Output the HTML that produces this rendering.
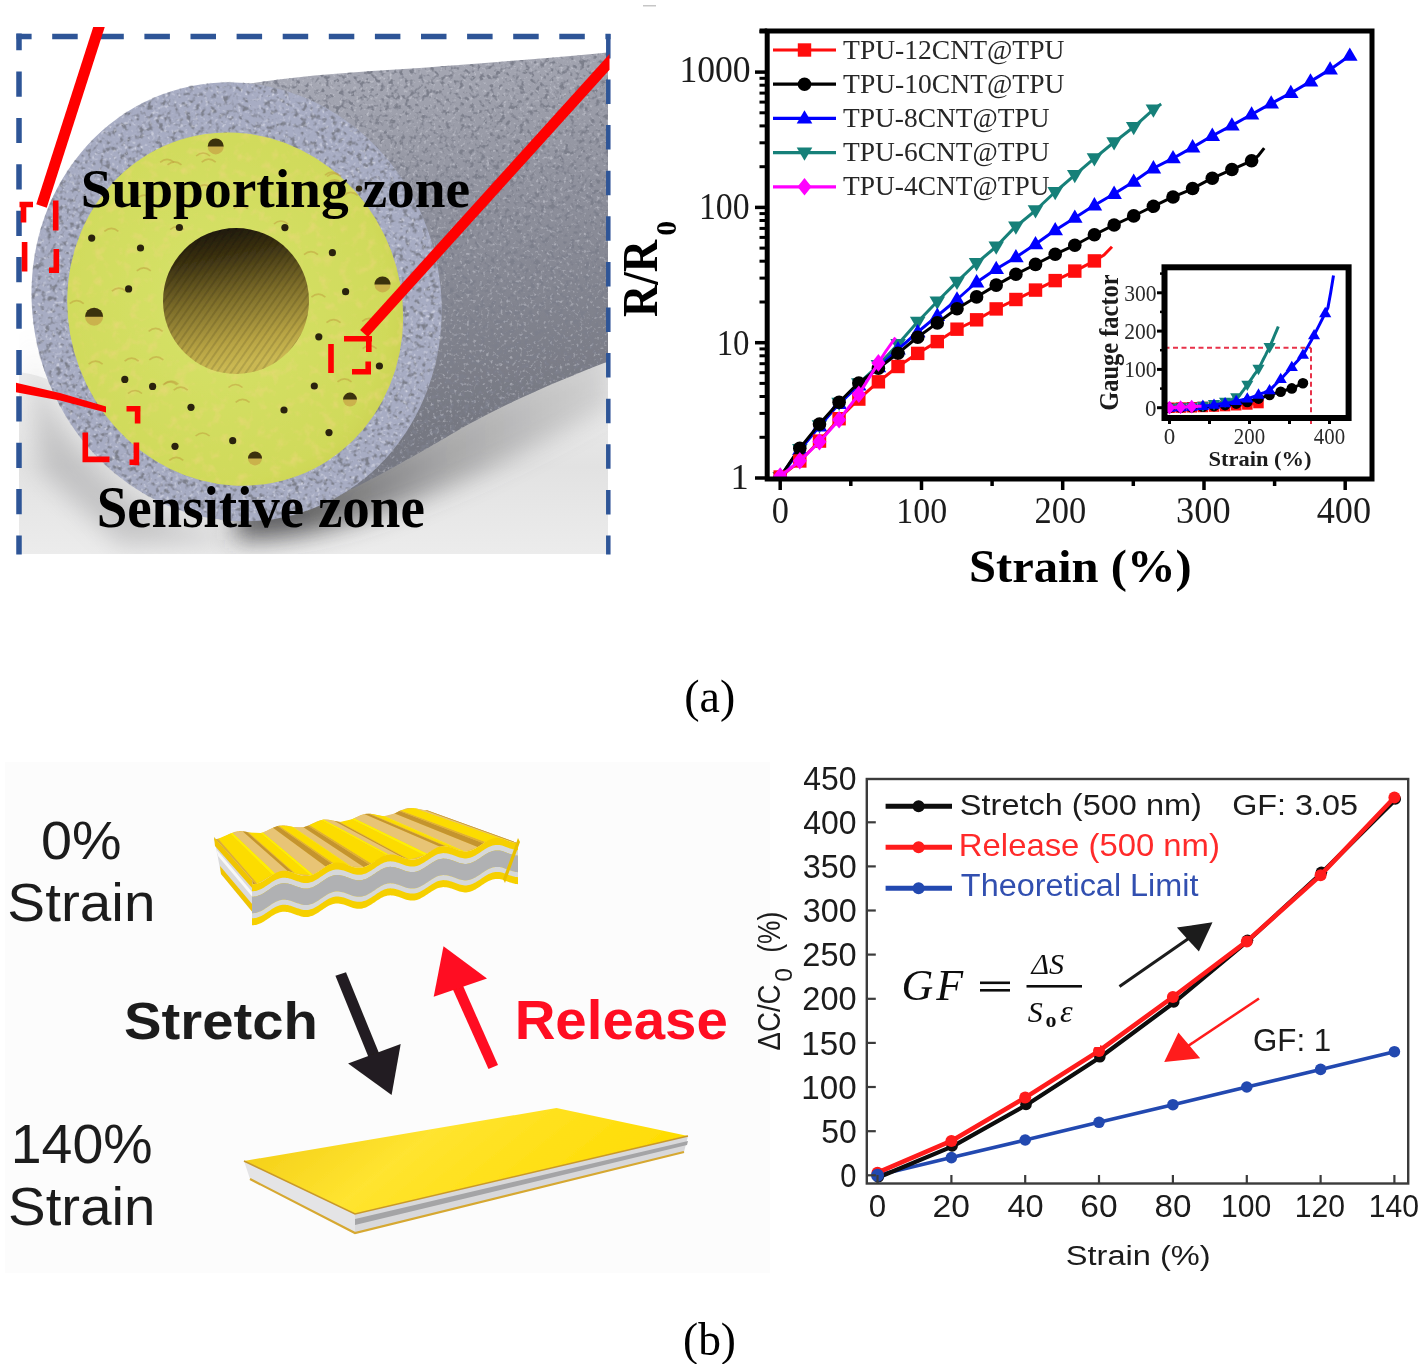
<!DOCTYPE html>
<html><head><meta charset="utf-8"><title>figure</title>
<style>html,body{margin:0;padding:0;background:#fff;width:1425px;height:1364px;overflow:hidden}svg{display:block}</style>
</head><body>
<svg width="1425" height="1364" viewBox="0 0 1425 1364"><defs>
<linearGradient id="holeG" x1="0" y1="0" x2="0.2" y2="1">
 <stop offset="0" stop-color="#120f06"/><stop offset="0.25" stop-color="#3a3010"/><stop offset="0.55" stop-color="#7e6e2a"/><stop offset="0.85" stop-color="#b8a444"/><stop offset="1" stop-color="#cab852"/>
</linearGradient>
<linearGradient id="bodyG" gradientUnits="userSpaceOnUse" x1="400" y1="60" x2="470" y2="420">
 <stop offset="0" stop-color="#a6a8b4"/><stop offset="0.45" stop-color="#8e909c"/><stop offset="1" stop-color="#767882"/>
</linearGradient>
<linearGradient id="shadowG" gradientUnits="userSpaceOnUse" x1="440" y1="430" x2="490" y2="530">
 <stop offset="0" stop-color="#8a8a8c"/><stop offset="0.35" stop-color="#b6b6b8"/><stop offset="1" stop-color="#ececec"/>
</linearGradient>
<radialGradient id="shadowR">
 <stop offset="0" stop-color="#505050" stop-opacity="0.55"/><stop offset="1" stop-color="#505050" stop-opacity="0"/>
</radialGradient>
<linearGradient id="floorL" gradientUnits="userSpaceOnUse" x1="19" y1="380" x2="19" y2="554">
 <stop offset="0" stop-color="#eeeeee"/><stop offset="0.5" stop-color="#e2e2e2"/><stop offset="1" stop-color="#ececec"/>
</linearGradient>
<linearGradient id="shadowH" gradientUnits="userSpaceOnUse" x1="300" y1="0" x2="608" y2="0">
 <stop offset="0" stop-color="#3c3c3e" stop-opacity="0.8"/><stop offset="0.45" stop-color="#58585a" stop-opacity="0.45"/><stop offset="1" stop-color="#808082" stop-opacity="0.25"/>
</linearGradient>
<filter id="noiseDark" x="0" y="0" width="100%" height="100%" filterUnits="objectBoundingBox">
 <feTurbulence type="fractalNoise" baseFrequency="0.2" numOctaves="2" seed="7" result="n"/>
 <feColorMatrix in="n" type="matrix" values="0 0 0 0 0.2  0 0 0 0 0.21  0 0 0 0 0.26  5.0 0 0 0 -2.6" result="d"/>
 <feComposite in="d" in2="SourceGraphic" operator="in"/>
</filter>
<filter id="noiseLight" x="0" y="0" width="100%" height="100%" filterUnits="objectBoundingBox">
 <feTurbulence type="fractalNoise" baseFrequency="0.3" numOctaves="2" seed="21" result="n"/>
 <feColorMatrix in="n" type="matrix" values="0 0 0 0 0.85  0 0 0 0 0.86  0 0 0 0 0.92  0 4.0 0 0 -2.3" result="d"/>
 <feComposite in="d" in2="SourceGraphic" operator="in"/>
</filter>
<filter id="noiseYel" x="0" y="0" width="100%" height="100%" filterUnits="objectBoundingBox">
 <feTurbulence type="fractalNoise" baseFrequency="0.09" numOctaves="3" seed="5" result="n"/>
 <feColorMatrix in="n" type="matrix" values="0 0 0 0 0.85  0 0 0 0 0.68  0 0 0 0 0.2  3.0 0 0 0 -1.55" result="d"/>
 <feComposite in="d" in2="SourceGraphic" operator="in"/>
</filter>
<filter id="blur12" x="-30%" y="-30%" width="160%" height="160%"><feGaussianBlur stdDeviation="12"/></filter>
<filter id="soft" filterUnits="userSpaceOnUse" x="0" y="0" width="1425" height="1364"><feGaussianBlur stdDeviation="0.6"/></filter>
<filter id="blur1"><feGaussianBlur stdDeviation="0.7"/></filter>
<linearGradient id="floorG" x1="0" y1="0" x2="1" y2="0">
 <stop offset="0" stop-color="#e6e6e6"/><stop offset="1" stop-color="#f6f6f6"/>
</linearGradient>
<radialGradient id="yelG" cx="0.45" cy="0.45" r="0.65">
 <stop offset="0" stop-color="#d6e26a"/><stop offset="0.8" stop-color="#d0da5a"/><stop offset="1" stop-color="#c8cc4e"/>
</radialGradient>
<linearGradient id="flatG" x1="0" y1="0" x2="1" y2="0.3">
 <stop offset="0" stop-color="#f0c810"/><stop offset="0.45" stop-color="#ffe430"/><stop offset="1" stop-color="#ffdc00"/>
</linearGradient>
<linearGradient id="wavTop" x1="0" y1="0" x2="1" y2="0">
 <stop offset="0" stop-color="#e8c040"/><stop offset="1" stop-color="#f6d820"/>
</linearGradient>
<pattern id="speck" width="9" height="9" patternUnits="userSpaceOnUse">
 <circle cx="2" cy="3" r="1.3" fill="#34363f" opacity="0.55"/>
 <circle cx="6.5" cy="7" r="1.1" fill="#34363f" opacity="0.45"/>
 <circle cx="7" cy="1.5" r="0.9" fill="#ffffff" opacity="0.3"/>
</pattern>
<pattern id="speck2" width="8" height="8" patternUnits="userSpaceOnUse">
 <circle cx="2" cy="2" r="1.3" fill="#2c2e38" opacity="0.5"/>
 <circle cx="5.5" cy="6" r="1.1" fill="#e0e2ec" opacity="0.4"/>
</pattern>
<pattern id="holeP" width="6" height="6" patternUnits="userSpaceOnUse" patternTransform="rotate(35)">
 <rect x="0" y="0" width="2" height="6" fill="#000" opacity="0.12"/>
</pattern>
<clipPath id="panelA2"><rect x="0" y="0" width="609.5" height="600"/></clipPath>
<clipPath id="redTop"><rect x="0" y="27" width="300" height="300"/></clipPath>
<clipPath id="panelA"><rect x="19" y="36" width="589" height="518"/></clipPath>
<clipPath id="plotA"><rect x="767" y="31" width="605" height="447"/></clipPath>
<clipPath id="plotB"><rect x="867" y="779" width="541" height="404"/></clipPath>
</defs>
<g filter="url(#soft)"><g clip-path="url(#panelA)">
<rect x="19" y="36" width="589" height="518" fill="#ffffff"/>
<path d="M19,372 C50,376 80,392 110,420 C150,470 220,520 320,500 L608,340 L608,554 L19,554 Z" fill="url(#floorL)"/>
<path d="M612,340 C560,362 500,387 450,417 C410,440 370,464 322,485 L236,506 L236,540 C330,540 430,505 612,405 Z" fill="url(#shadowH)" filter="url(#blur12)"/>
<path d="M30,330 C40,420 90,480 180,525 L250,540 L120,545 L40,470 Z" fill="#9a9a9c" opacity="0.45" filter="url(#blur12)"/>
<path d="M150,110 C200,85 300,75 412,68.6 C500,62 560,57 612,52 L612,360 C560,380 500,405 450,435 C410,458 370,482 322,503 L236,520 Z" fill="url(#bodyG)"/>
<path d="M150,110 C200,85 300,75 412,68.6 C500,62 560,57 612,52 L612,360 C560,380 500,405 450,435 C410,458 370,482 322,503 L236,520 Z" fill="#000" filter="url(#noiseDark)"/>
<path d="M150,110 C200,85 300,75 412,68.6 C500,62 560,57 612,52 L612,360 C560,380 500,405 450,435 C410,458 370,482 322,503 L236,520 Z" fill="#000" filter="url(#noiseLight)" opacity="0.35"/>
<ellipse cx="236.6" cy="301.8" rx="204" ry="220.5" transform="rotate(-14.6 236.6 301.8)" fill="#a7acc3"/>
<ellipse cx="236.6" cy="301.8" rx="204" ry="220.5" transform="rotate(-14.6 236.6 301.8)" fill="#000" filter="url(#noiseDark)"/>
<ellipse cx="236.6" cy="301.8" rx="204" ry="220.5" transform="rotate(-14.6 236.6 301.8)" fill="#000" filter="url(#noiseLight)" opacity="0.6"/>
<ellipse cx="235.2" cy="309.2" rx="166.5" ry="178" transform="rotate(-20.6 235.2 309.2)" fill="url(#yelG)"/>
<ellipse cx="235.2" cy="309.2" rx="166.5" ry="178" transform="rotate(-20.6 235.2 309.2)" fill="#000" filter="url(#noiseYel)" opacity="0.55"/>
<path d="M235.6,402.3 q7,-6 14,0" stroke="#c0a040" stroke-width="1.6" fill="none" opacity="0.55"/>
<path d="M163.0,384.8 q7,-6 14,0" stroke="#c0a040" stroke-width="1.6" fill="none" opacity="0.55"/>
<path d="M362.2,321.3 q7,-6 14,0" stroke="#c0a040" stroke-width="1.6" fill="none" opacity="0.55"/>
<path d="M137.3,198.2 q7,-6 14,0" stroke="#c0a040" stroke-width="1.6" fill="none" opacity="0.55"/>
<path d="M111.9,291.1 q7,-6 14,0" stroke="#c0a040" stroke-width="1.6" fill="none" opacity="0.55"/>
<path d="M233.9,208.6 q7,-6 14,0" stroke="#c0a040" stroke-width="1.6" fill="none" opacity="0.55"/>
<path d="M201.7,162.1 q7,-6 14,0" stroke="#c0a040" stroke-width="1.6" fill="none" opacity="0.55"/>
<path d="M196.1,156.0 q7,-6 14,0" stroke="#c0a040" stroke-width="1.6" fill="none" opacity="0.55"/>
<path d="M128.0,393.5 q7,-6 14,0" stroke="#c0a040" stroke-width="1.6" fill="none" opacity="0.55"/>
<path d="M88.6,364.1 q7,-6 14,0" stroke="#c0a040" stroke-width="1.6" fill="none" opacity="0.55"/>
<path d="M173.7,390.1 q7,-6 14,0" stroke="#c0a040" stroke-width="1.6" fill="none" opacity="0.55"/>
<path d="M104.4,231.4 q7,-6 14,0" stroke="#c0a040" stroke-width="1.6" fill="none" opacity="0.55"/>
<path d="M167.5,164.9 q7,-6 14,0" stroke="#c0a040" stroke-width="1.6" fill="none" opacity="0.55"/>
<path d="M327.0,176.5 q7,-6 14,0" stroke="#c0a040" stroke-width="1.6" fill="none" opacity="0.55"/>
<path d="M327.6,182.8 q7,-6 14,0" stroke="#c0a040" stroke-width="1.6" fill="none" opacity="0.55"/>
<path d="M304.0,254.6 q7,-6 14,0" stroke="#c0a040" stroke-width="1.6" fill="none" opacity="0.55"/>
<path d="M273.9,224.0 q7,-6 14,0" stroke="#c0a040" stroke-width="1.6" fill="none" opacity="0.55"/>
<path d="M325.0,175.1 q7,-6 14,0" stroke="#c0a040" stroke-width="1.6" fill="none" opacity="0.55"/>
<path d="M337.5,381.8 q7,-6 14,0" stroke="#c0a040" stroke-width="1.6" fill="none" opacity="0.55"/>
<path d="M195.6,436.0 q7,-6 14,0" stroke="#c0a040" stroke-width="1.6" fill="none" opacity="0.55"/>
<path d="M343.7,195.4 q7,-6 14,0" stroke="#c0a040" stroke-width="1.6" fill="none" opacity="0.55"/>
<path d="M69.7,303.7 q7,-6 14,0" stroke="#c0a040" stroke-width="1.6" fill="none" opacity="0.55"/>
<path d="M362.6,348.6 q7,-6 14,0" stroke="#c0a040" stroke-width="1.6" fill="none" opacity="0.55"/>
<path d="M169.3,460.4 q7,-6 14,0" stroke="#c0a040" stroke-width="1.6" fill="none" opacity="0.55"/>
<path d="M148.6,331.4 q7,-6 14,0" stroke="#c0a040" stroke-width="1.6" fill="none" opacity="0.55"/>
<path d="M170.2,229.5 q7,-6 14,0" stroke="#c0a040" stroke-width="1.6" fill="none" opacity="0.55"/>
<path d="M136.8,270.9 q7,-6 14,0" stroke="#c0a040" stroke-width="1.6" fill="none" opacity="0.55"/>
<path d="M124.6,361.1 q7,-6 14,0" stroke="#c0a040" stroke-width="1.6" fill="none" opacity="0.55"/>
<path d="M311.4,297.1 q7,-6 14,0" stroke="#c0a040" stroke-width="1.6" fill="none" opacity="0.55"/>
<path d="M149.3,359.9 q7,-6 14,0" stroke="#c0a040" stroke-width="1.6" fill="none" opacity="0.55"/>
<path d="M326.5,322.7 q7,-6 14,0" stroke="#c0a040" stroke-width="1.6" fill="none" opacity="0.55"/>
<path d="M197.5,187.9 q7,-6 14,0" stroke="#c0a040" stroke-width="1.6" fill="none" opacity="0.55"/>
<path d="M160.1,162.3 q7,-6 14,0" stroke="#c0a040" stroke-width="1.6" fill="none" opacity="0.55"/>
<path d="M228.5,387.5 q7,-6 14,0" stroke="#c0a040" stroke-width="1.6" fill="none" opacity="0.55"/>
<path d="M164.3,384.1 q7,-6 14,0" stroke="#c0a040" stroke-width="1.6" fill="none" opacity="0.55"/>
<circle cx="215.7" cy="146.4" r="8" fill="#c8a848" opacity="0.8"/>
<path d="M207.7,146.4 a8,8 0 0 1 16,0" fill="#3a3010"/>
<circle cx="91.7" cy="238.1" r="3.6" fill="#2a2410"/>
<circle cx="140.5" cy="248" r="3.6" fill="#2a2410"/>
<circle cx="179.4" cy="227.5" r="3.6" fill="#2a2410"/>
<circle cx="128.6" cy="288.9" r="3.6" fill="#2a2410"/>
<circle cx="94.1" cy="316.7" r="9" fill="#c8a848" opacity="0.8"/>
<path d="M85.1,316.7 a9,9 0 0 1 18,0" fill="#3a3010"/>
<circle cx="124.8" cy="379.4" r="3.6" fill="#2a2410"/>
<circle cx="152.6" cy="386.4" r="3.6" fill="#2a2410"/>
<circle cx="191" cy="407.3" r="3.6" fill="#2a2410"/>
<circle cx="175" cy="446.3" r="3.6" fill="#2a2410"/>
<circle cx="232.7" cy="440.7" r="3.6" fill="#2a2410"/>
<circle cx="284" cy="410" r="3.6" fill="#2a2410"/>
<circle cx="329" cy="432.6" r="3.6" fill="#2a2410"/>
<circle cx="255" cy="458.4" r="7" fill="#c8a848" opacity="0.8"/>
<path d="M248,458.4 a7,7 0 0 1 14,0" fill="#3a3010"/>
<circle cx="284.9" cy="227.6" r="3.6" fill="#2a2410"/>
<circle cx="332.4" cy="252.7" r="3.6" fill="#2a2410"/>
<circle cx="345.6" cy="291.7" r="3.6" fill="#2a2410"/>
<circle cx="382.5" cy="284.4" r="8" fill="#c8a848" opacity="0.8"/>
<path d="M374.5,284.4 a8,8 0 0 1 16,0" fill="#3a3010"/>
<circle cx="318.8" cy="336.8" r="3.6" fill="#2a2410"/>
<circle cx="314.3" cy="386" r="3.6" fill="#2a2410"/>
<circle cx="350" cy="399.6" r="7" fill="#c8a848" opacity="0.8"/>
<path d="M343,399.6 a7,7 0 0 1 14,0" fill="#3a3010"/>
<circle cx="379.4" cy="366" r="3.6" fill="#2a2410"/>
<circle cx="359" cy="188.6" r="3.2" fill="#2a2410"/>
<circle cx="236" cy="301" r="73" fill="url(#holeG)"/>
<circle cx="236" cy="301" r="73" fill="url(#holeP)"/>
</g>
<line x1="16.5" y1="36.5" x2="610.5" y2="36.5" stroke="#2e5597" stroke-width="5.5" stroke-dasharray="25.5 20.6" stroke-dashoffset="10.4"/>
<line x1="19" y1="33.5" x2="19" y2="554.5" stroke="#2e5597" stroke-width="5.5" stroke-dasharray="25.2 21.2" stroke-dashoffset="8.4"/>
<line x1="608.3" y1="33.9" x2="608.3" y2="554.5" stroke="#2e5597" stroke-width="4.5" stroke-dasharray="24.5 21.1" stroke-dashoffset="0"/>
<line x1="100.6" y1="22" x2="41.5" y2="206" stroke="#ff0000" stroke-width="11" clip-path="url(#redTop)"/>
<line x1="614" y1="57" x2="364" y2="333.5" stroke="#ff0000" stroke-width="10.5" clip-path="url(#panelA2)"/>
<path d="M16,382.8 L16,392.2 L60,400.5 L106,412.5 L106,406.5 L60,393 Z" fill="#ff0000"/>
<path d="M19.5,204.5 H33 M23.5,202 V222.5 M55.7,200.5 V230.5 M24.6,242 V271.5 M56.3,249 V273 M49,270.3 H59 M344,338.7 H372 M368.8,336 V352 M331,344 V373 M352,371.7 H371 M368.2,361.5 V374.5 M126.5,408.8 H140.5 M137.6,406 V423.5 M85.3,432.5 V462.3 M82.5,459.4 H109.5 M136.4,442.5 V465.3 M129.5,462.3 H139" stroke="#ff0000" stroke-width="5.6" fill="none"/>
<text x="80.63" y="206.50" font-family="Liberation Serif, serif" font-size="55.54" font-weight="bold" fill="#000" text-anchor="start" textLength="389.60" lengthAdjust="spacingAndGlyphs" >Supporting zone</text>
<text x="96.65" y="526.50" font-family="Liberation Serif, serif" font-size="58.15" font-weight="bold" fill="#000" text-anchor="start" textLength="328.14" lengthAdjust="spacingAndGlyphs" >Sensitive zone</text>
<g clip-path="url(#plotA)">
<polyline points="780.2,477.0 798.2,451.0 818.0,427.0 837.0,405.0 857.0,385.0 877.5,366.0 897.3,345.0 916.6,323.0 936.0,302.8 955.3,283.4 975.6,264.0 995.8,247.0 1013.7,228.4 1034.3,211.5 1054.0,193.0 1073.5,176.2 1092.8,159.7 1112.5,143.5 1133.4,127.3 1154.2,108.7 1161.2,104.1" fill="none" stroke="#178079" stroke-width="3" stroke-linejoin="round"/>
<polygon points="780.2,485.2 788.0,471.9 772.4,471.9" fill="#178079"/>
<polygon points="799.8,457.2 807.6,443.9 792.1,443.9" fill="#178079"/>
<polygon points="819.5,433.5 827.3,420.2 811.7,420.2" fill="#178079"/>
<polygon points="839.1,411.1 846.9,397.8 831.3,397.8" fill="#178079"/>
<polygon points="858.8,391.6 866.5,378.3 851.0,378.3" fill="#178079"/>
<polygon points="878.4,373.2 886.2,360.0 870.6,360.0" fill="#178079"/>
<polygon points="898.0,352.4 905.8,339.1 890.3,339.1" fill="#178079"/>
<polygon points="917.7,330.1 925.5,316.8 909.9,316.8" fill="#178079"/>
<polygon points="937.3,309.7 945.1,296.4 929.5,296.4" fill="#178079"/>
<polygon points="957.0,290.0 964.8,276.7 949.2,276.7" fill="#178079"/>
<polygon points="976.6,271.4 984.4,258.1 968.8,258.1" fill="#178079"/>
<polygon points="996.2,254.7 1004.0,241.5 988.5,241.5" fill="#178079"/>
<polygon points="1015.9,234.8 1023.7,221.5 1008.1,221.5" fill="#178079"/>
<polygon points="1035.5,218.6 1043.3,205.3 1027.7,205.3" fill="#178079"/>
<polygon points="1055.2,200.2 1063.0,186.9 1047.4,186.9" fill="#178079"/>
<polygon points="1074.8,183.3 1082.6,170.0 1067.0,170.0" fill="#178079"/>
<polygon points="1094.4,166.6 1102.2,153.3 1086.7,153.3" fill="#178079"/>
<polygon points="1114.1,150.5 1121.9,137.2 1106.3,137.2" fill="#178079"/>
<polygon points="1133.7,135.2 1141.5,121.9 1125.9,121.9" fill="#178079"/>
<polygon points="1153.4,117.7 1161.2,104.4 1145.6,104.4" fill="#178079"/>
<polyline points="780.2,477.0 798.2,452.0 818.0,428.0 837.0,406.0 857.0,387.0 877.5,368.0 897.3,350.0 916.6,333.0 936.0,316.9 955.3,301.0 975.6,283.0 995.4,269.5 1015.2,257.7 1035.0,244.5 1054.0,231.0 1073.8,218.4 1093.6,205.8 1113.4,194.2 1133.2,182.0 1151.9,169.0 1170.4,159.7 1191.3,148.1 1211.0,136.5 1230.6,126.1 1249.2,115.7 1270.0,104.1 1289.7,93.7 1309.4,82.1 1330.2,69.4 1349.9,55.5" fill="none" stroke="#0000ff" stroke-width="3" stroke-linejoin="round"/>
<polygon points="780.2,468.8 788.0,482.1 772.4,482.1" fill="#0000ff"/>
<polygon points="799.8,441.8 807.6,455.1 792.1,455.1" fill="#0000ff"/>
<polygon points="819.5,418.1 827.3,431.4 811.7,431.4" fill="#0000ff"/>
<polygon points="839.1,395.8 846.9,409.1 831.3,409.1" fill="#0000ff"/>
<polygon points="858.8,377.2 866.5,390.5 851.0,390.5" fill="#0000ff"/>
<polygon points="878.4,359.0 886.2,372.3 870.6,372.3" fill="#0000ff"/>
<polygon points="898.0,341.1 905.8,354.4 890.3,354.4" fill="#0000ff"/>
<polygon points="917.7,323.9 925.5,337.2 909.9,337.2" fill="#0000ff"/>
<polygon points="937.3,307.6 945.1,320.9 929.5,320.9" fill="#0000ff"/>
<polygon points="957.0,291.3 964.8,304.6 949.2,304.6" fill="#0000ff"/>
<polygon points="976.6,274.1 984.4,287.4 968.8,287.4" fill="#0000ff"/>
<polygon points="996.2,260.8 1004.0,274.1 988.5,274.1" fill="#0000ff"/>
<polygon points="1015.9,249.0 1023.7,262.3 1008.1,262.3" fill="#0000ff"/>
<polygon points="1035.5,235.9 1043.3,249.2 1027.7,249.2" fill="#0000ff"/>
<polygon points="1055.2,222.1 1063.0,235.3 1047.4,235.3" fill="#0000ff"/>
<polygon points="1074.8,209.6 1082.6,222.8 1067.0,222.8" fill="#0000ff"/>
<polygon points="1094.4,197.1 1102.2,210.4 1086.7,210.4" fill="#0000ff"/>
<polygon points="1114.1,185.6 1121.9,198.9 1106.3,198.9" fill="#0000ff"/>
<polygon points="1133.7,173.4 1141.5,186.7 1125.9,186.7" fill="#0000ff"/>
<polygon points="1153.4,160.1 1161.2,173.4 1145.6,173.4" fill="#0000ff"/>
<polygon points="1173.0,150.1 1180.8,163.3 1165.2,163.3" fill="#0000ff"/>
<polygon points="1192.6,139.1 1200.4,152.4 1184.9,152.4" fill="#0000ff"/>
<polygon points="1212.3,127.6 1220.1,140.9 1204.5,140.9" fill="#0000ff"/>
<polygon points="1231.9,117.2 1239.7,130.4 1224.1,130.4" fill="#0000ff"/>
<polygon points="1251.6,106.2 1259.3,119.5 1243.8,119.5" fill="#0000ff"/>
<polygon points="1271.2,95.3 1279.0,108.6 1263.4,108.6" fill="#0000ff"/>
<polygon points="1290.8,84.8 1298.6,98.1 1283.1,98.1" fill="#0000ff"/>
<polygon points="1310.5,73.2 1318.3,86.5 1302.7,86.5" fill="#0000ff"/>
<polygon points="1330.1,61.2 1337.9,74.5 1322.3,74.5" fill="#0000ff"/>
<polygon points="1349.8,47.4 1357.6,60.7 1342.0,60.7" fill="#0000ff"/>
<polyline points="780.2,477.0 798.2,450.2 818.1,425.6 836.9,404.5 856.8,384.5 877.5,369.0 897.3,353.8 916.6,338.0 936.0,323.9 955.3,309.8 975.6,297.5 995.4,285.6 1015.2,274.6 1034.3,265.0 1054.0,254.8 1073.8,245.7 1092.9,235.5 1112.7,225.6 1132.4,216.5 1151.7,207.1 1171.4,197.7 1190.1,189.8 1209.8,179.4 1230.6,170.1 1251.5,160.8 1258.0,156.0 1264.2,148.1" fill="none" stroke="#000000" stroke-width="3" stroke-linejoin="round"/>
<circle cx="780.2" cy="477.0" r="6.8" fill="#000000"/>
<circle cx="799.8" cy="448.2" r="6.8" fill="#000000"/>
<circle cx="819.5" cy="424.1" r="6.8" fill="#000000"/>
<circle cx="839.1" cy="402.3" r="6.8" fill="#000000"/>
<circle cx="858.8" cy="383.0" r="6.8" fill="#000000"/>
<circle cx="878.4" cy="368.3" r="6.8" fill="#000000"/>
<circle cx="898.0" cy="353.2" r="6.8" fill="#000000"/>
<circle cx="917.7" cy="337.2" r="6.8" fill="#000000"/>
<circle cx="937.3" cy="322.9" r="6.8" fill="#000000"/>
<circle cx="957.0" cy="308.8" r="6.8" fill="#000000"/>
<circle cx="976.6" cy="296.9" r="6.8" fill="#000000"/>
<circle cx="996.2" cy="285.1" r="6.8" fill="#000000"/>
<circle cx="1015.9" cy="274.3" r="6.8" fill="#000000"/>
<circle cx="1035.5" cy="264.4" r="6.8" fill="#000000"/>
<circle cx="1055.2" cy="254.3" r="6.8" fill="#000000"/>
<circle cx="1074.8" cy="245.2" r="6.8" fill="#000000"/>
<circle cx="1094.4" cy="234.7" r="6.8" fill="#000000"/>
<circle cx="1114.1" cy="225.0" r="6.8" fill="#000000"/>
<circle cx="1133.7" cy="215.9" r="6.8" fill="#000000"/>
<circle cx="1153.4" cy="206.3" r="6.8" fill="#000000"/>
<circle cx="1173.0" cy="197.0" r="6.8" fill="#000000"/>
<circle cx="1192.6" cy="188.5" r="6.8" fill="#000000"/>
<circle cx="1212.3" cy="178.3" r="6.8" fill="#000000"/>
<circle cx="1231.9" cy="169.5" r="6.8" fill="#000000"/>
<circle cx="1251.6" cy="160.8" r="6.8" fill="#000000"/>
<polyline points="780.2,477.0 799.9,461.0 819.6,441.0 839.3,418.5 858.0,399.8 877.9,382.2 897.3,367.0 916.6,354.0 936.0,342.4 955.3,330.0 975.6,320.4 995.0,309.5 1014.5,300.2 1034.3,290.7 1054.0,281.2 1073.8,271.6 1093.6,261.4 1104.0,255.0 1112.0,246.7" fill="none" stroke="#ff0a0a" stroke-width="3" stroke-linejoin="round"/>
<rect x="773.5" y="470.3" width="13.4" height="13.4" fill="#ff0a0a"/>
<rect x="793.1" y="454.3" width="13.4" height="13.4" fill="#ff0a0a"/>
<rect x="812.8" y="434.4" width="13.4" height="13.4" fill="#ff0a0a"/>
<rect x="832.4" y="412.0" width="13.4" height="13.4" fill="#ff0a0a"/>
<rect x="852.1" y="392.4" width="13.4" height="13.4" fill="#ff0a0a"/>
<rect x="871.7" y="375.1" width="13.4" height="13.4" fill="#ff0a0a"/>
<rect x="891.3" y="359.8" width="13.4" height="13.4" fill="#ff0a0a"/>
<rect x="911.0" y="346.7" width="13.4" height="13.4" fill="#ff0a0a"/>
<rect x="930.6" y="334.9" width="13.4" height="13.4" fill="#ff0a0a"/>
<rect x="950.3" y="322.5" width="13.4" height="13.4" fill="#ff0a0a"/>
<rect x="969.9" y="313.1" width="13.4" height="13.4" fill="#ff0a0a"/>
<rect x="989.5" y="302.2" width="13.4" height="13.4" fill="#ff0a0a"/>
<rect x="1009.2" y="292.8" width="13.4" height="13.4" fill="#ff0a0a"/>
<rect x="1028.8" y="283.4" width="13.4" height="13.4" fill="#ff0a0a"/>
<rect x="1048.5" y="273.9" width="13.4" height="13.4" fill="#ff0a0a"/>
<rect x="1068.1" y="264.4" width="13.4" height="13.4" fill="#ff0a0a"/>
<rect x="1087.7" y="254.2" width="13.4" height="13.4" fill="#ff0a0a"/>
<polyline points="780.6,476.0 799.9,460.8 819.3,442.0 839.2,419.7 859.1,393.9 877.3,364.6 886.0,351.0 895.5,337.6" fill="none" stroke="#ff00ff" stroke-width="3" stroke-linejoin="round"/>
<polygon points="780.2,467.2 787.2,476.0 780.2,484.8 773.2,476.0" fill="#ff00ff"/>
<polygon points="799.8,452.0 806.9,460.8 799.8,469.6 792.8,460.8" fill="#ff00ff"/>
<polygon points="819.5,433.0 826.5,441.8 819.5,450.6 812.4,441.8" fill="#ff00ff"/>
<polygon points="839.1,411.0 846.2,419.8 839.1,428.6 832.1,419.8" fill="#ff00ff"/>
<polygon points="858.8,385.5 865.8,394.3 858.8,403.1 851.7,394.3" fill="#ff00ff"/>
<polygon points="878.4,354.1 885.4,362.9 878.4,371.7 871.4,362.9" fill="#ff00ff"/>
</g>
<rect x="767.2" y="31" width="604.8" height="448" fill="none" stroke="#000" stroke-width="5"/>
<line x1="759.5" y1="31" x2="767.2" y2="31" stroke="#000" stroke-width="5"/>
<line x1="643" y1="5.8" x2="656" y2="5.8" stroke="#b8b8b8" stroke-width="1.2"/>
<line x1="755" y1="478.0" x2="767.2" y2="478.0" stroke="#000" stroke-width="3.5"/>
<line x1="759.5" y1="437.3" x2="767.2" y2="437.3" stroke="#000" stroke-width="3"/>
<line x1="759.5" y1="413.4" x2="767.2" y2="413.4" stroke="#000" stroke-width="3"/>
<line x1="759.5" y1="396.5" x2="767.2" y2="396.5" stroke="#000" stroke-width="3"/>
<line x1="759.5" y1="383.4" x2="767.2" y2="383.4" stroke="#000" stroke-width="3"/>
<line x1="759.5" y1="372.7" x2="767.2" y2="372.7" stroke="#000" stroke-width="3"/>
<line x1="759.5" y1="363.7" x2="767.2" y2="363.7" stroke="#000" stroke-width="3"/>
<line x1="759.5" y1="355.8" x2="767.2" y2="355.8" stroke="#000" stroke-width="3"/>
<line x1="759.5" y1="348.9" x2="767.2" y2="348.9" stroke="#000" stroke-width="3"/>
<line x1="755" y1="342.7" x2="767.2" y2="342.7" stroke="#000" stroke-width="3.5"/>
<line x1="759.5" y1="302.0" x2="767.2" y2="302.0" stroke="#000" stroke-width="3"/>
<line x1="759.5" y1="278.1" x2="767.2" y2="278.1" stroke="#000" stroke-width="3"/>
<line x1="759.5" y1="261.2" x2="767.2" y2="261.2" stroke="#000" stroke-width="3"/>
<line x1="759.5" y1="248.1" x2="767.2" y2="248.1" stroke="#000" stroke-width="3"/>
<line x1="759.5" y1="237.4" x2="767.2" y2="237.4" stroke="#000" stroke-width="3"/>
<line x1="759.5" y1="228.4" x2="767.2" y2="228.4" stroke="#000" stroke-width="3"/>
<line x1="759.5" y1="220.5" x2="767.2" y2="220.5" stroke="#000" stroke-width="3"/>
<line x1="759.5" y1="213.6" x2="767.2" y2="213.6" stroke="#000" stroke-width="3"/>
<line x1="755" y1="207.4" x2="767.2" y2="207.4" stroke="#000" stroke-width="3.5"/>
<line x1="759.5" y1="166.7" x2="767.2" y2="166.7" stroke="#000" stroke-width="3"/>
<line x1="759.5" y1="142.8" x2="767.2" y2="142.8" stroke="#000" stroke-width="3"/>
<line x1="759.5" y1="125.9" x2="767.2" y2="125.9" stroke="#000" stroke-width="3"/>
<line x1="759.5" y1="112.8" x2="767.2" y2="112.8" stroke="#000" stroke-width="3"/>
<line x1="759.5" y1="102.1" x2="767.2" y2="102.1" stroke="#000" stroke-width="3"/>
<line x1="759.5" y1="93.1" x2="767.2" y2="93.1" stroke="#000" stroke-width="3"/>
<line x1="759.5" y1="85.2" x2="767.2" y2="85.2" stroke="#000" stroke-width="3"/>
<line x1="759.5" y1="78.3" x2="767.2" y2="78.3" stroke="#000" stroke-width="3"/>
<line x1="755" y1="72.1" x2="767.2" y2="72.1" stroke="#000" stroke-width="3.5"/>
<line x1="759.5" y1="31.4" x2="767.2" y2="31.4" stroke="#000" stroke-width="3"/>
<line x1="780.2" y1="479" x2="780.2" y2="490" stroke="#000" stroke-width="3.5"/>
<line x1="850.8" y1="479" x2="850.8" y2="486" stroke="#000" stroke-width="3.5"/>
<line x1="921.5" y1="479" x2="921.5" y2="490" stroke="#000" stroke-width="3.5"/>
<line x1="992.1" y1="479" x2="992.1" y2="486" stroke="#000" stroke-width="3.5"/>
<line x1="1062.7" y1="479" x2="1062.7" y2="490" stroke="#000" stroke-width="3.5"/>
<line x1="1133.3" y1="479" x2="1133.3" y2="486" stroke="#000" stroke-width="3.5"/>
<line x1="1204.0" y1="479" x2="1204.0" y2="490" stroke="#000" stroke-width="3.5"/>
<line x1="1274.6" y1="479" x2="1274.6" y2="486" stroke="#000" stroke-width="3.5"/>
<line x1="1345.2" y1="479" x2="1345.2" y2="490" stroke="#000" stroke-width="3.5"/>
<text x="679.39" y="82.40" font-family="Liberation Serif, serif" font-size="37.42" font-weight="normal" fill="#1c1c1c" text-anchor="start" textLength="71.23" lengthAdjust="spacingAndGlyphs" >1000</text>
<text x="698.96" y="218.90" font-family="Liberation Serif, serif" font-size="37.12" font-weight="normal" fill="#1c1c1c" text-anchor="start" textLength="50.58" lengthAdjust="spacingAndGlyphs" >100</text>
<text x="716.64" y="354.50" font-family="Liberation Serif, serif" font-size="36.06" font-weight="normal" fill="#1c1c1c" text-anchor="start" textLength="32.87" lengthAdjust="spacingAndGlyphs" >10</text>
<text x="748.80" y="489.30" font-family="Liberation Serif, serif" font-size="36.5" font-weight="normal" fill="#1c1c1c" text-anchor="end" >1</text>
<text x="771.63" y="523.00" font-family="Liberation Serif, serif" font-size="37.23" font-weight="normal" fill="#1c1c1c" text-anchor="start" textLength="17.14" lengthAdjust="spacingAndGlyphs" >0</text>
<text x="896.35" y="523.00" font-family="Liberation Serif, serif" font-size="36.67" font-weight="normal" fill="#1c1c1c" text-anchor="start" textLength="50.91" lengthAdjust="spacingAndGlyphs" >100</text>
<text x="1034.52" y="523.00" font-family="Liberation Serif, serif" font-size="37.23" font-weight="normal" fill="#1c1c1c" text-anchor="start" textLength="51.65" lengthAdjust="spacingAndGlyphs" >200</text>
<text x="1176.08" y="523.00" font-family="Liberation Serif, serif" font-size="37.23" font-weight="normal" fill="#1c1c1c" text-anchor="start" textLength="54.47" lengthAdjust="spacingAndGlyphs" >300</text>
<text x="1316.68" y="523.00" font-family="Liberation Serif, serif" font-size="37.23" font-weight="normal" fill="#1c1c1c" text-anchor="start" textLength="54.37" lengthAdjust="spacingAndGlyphs" >400</text>
<text x="968.97" y="582.00" font-family="Liberation Serif, serif" font-size="46.31" font-weight="bold" fill="#000" text-anchor="start" textLength="222.73" lengthAdjust="spacingAndGlyphs" >Strain (%)</text>
<text transform="translate(656.7,317) rotate(-90)" font-family="Liberation Serif, serif" font-size="51" font-weight="bold" fill="#000" textLength="77" lengthAdjust="spacingAndGlyphs">R/R</text>
<text transform="translate(675.6,235.5) rotate(-90)" font-family="Liberation Serif, serif" font-size="29" font-weight="bold" fill="#000">0</text>
<line x1="773" y1="50.0" x2="836" y2="50.0" stroke="#ff0a0a" stroke-width="3.2"/>
<rect x="797.8" y="43.3" width="13.4" height="13.4" fill="#ff0a0a"/>
<text x="843.05" y="59.00" font-family="Liberation Serif, serif" font-size="26.46" font-weight="normal" fill="#262626" text-anchor="start" textLength="221.37" lengthAdjust="spacingAndGlyphs" >TPU-12CNT@TPU</text>
<line x1="773" y1="84.2" x2="836" y2="84.2" stroke="#000000" stroke-width="3.2"/>
<circle cx="804.5" cy="84.2" r="6.8" fill="#000000"/>
<text x="843.05" y="93.00" font-family="Liberation Serif, serif" font-size="26.46" font-weight="normal" fill="#262626" text-anchor="start" textLength="221.37" lengthAdjust="spacingAndGlyphs" >TPU-10CNT@TPU</text>
<line x1="773" y1="118.4" x2="836" y2="118.4" stroke="#0000ff" stroke-width="3.2"/>
<polygon points="804.5,110.2 812.3,123.5 796.7,123.5" fill="#0000ff"/>
<text x="843.05" y="127.00" font-family="Liberation Serif, serif" font-size="26.46" font-weight="normal" fill="#262626" text-anchor="start" textLength="206.46" lengthAdjust="spacingAndGlyphs" >TPU-8CNT@TPU</text>
<line x1="773" y1="152.6" x2="836" y2="152.6" stroke="#178079" stroke-width="3.2"/>
<polygon points="804.5,160.8 812.3,147.5 796.7,147.5" fill="#178079"/>
<text x="843.05" y="161.00" font-family="Liberation Serif, serif" font-size="26.46" font-weight="normal" fill="#262626" text-anchor="start" textLength="206.46" lengthAdjust="spacingAndGlyphs" >TPU-6CNT@TPU</text>
<line x1="773" y1="186.8" x2="836" y2="186.8" stroke="#ff00ff" stroke-width="3.2"/>
<polygon points="804.5,178.0 811.5,186.8 804.5,195.6 797.5,186.8" fill="#ff00ff"/>
<text x="843.05" y="195.00" font-family="Liberation Serif, serif" font-size="26.46" font-weight="normal" fill="#262626" text-anchor="start" textLength="206.46" lengthAdjust="spacingAndGlyphs" >TPU-4CNT@TPU</text>
<rect x="1164.5" y="267.3" width="184.0999999999999" height="150.7" fill="#ffffff"/>
<clipPath id="insC"><rect x="1164.5" y="267.3" width="184.0999999999999" height="150.7"/></clipPath>
<g clip-path="url(#insC)">
<line x1="1164.5" y1="347.7" x2="1311" y2="347.7" stroke="#e8304a" stroke-width="2" stroke-dasharray="5 3.5"/>
<line x1="1311" y1="347.7" x2="1311" y2="418" stroke="#e8304a" stroke-width="2" stroke-dasharray="5 3.5"/>
<polyline points="1169.5,407.7 1171.1,407.7 1172.6,407.6 1174.2,407.6 1175.7,407.6 1177.3,407.6 1178.8,407.5 1180.4,407.5 1181.9,407.5 1183.5,407.4 1185.0,407.4 1186.6,407.4 1188.1,407.3 1189.7,407.3 1191.2,407.3 1192.8,407.2 1194.3,407.2 1195.9,407.1 1197.4,407.1 1199.0,407.0 1200.6,407.0 1202.1,407.0 1203.7,406.9 1205.2,406.9 1206.8,406.8 1208.3,406.8 1209.9,406.7 1211.4,406.7 1213.0,406.6 1214.5,406.5 1216.1,406.4 1217.6,406.4 1219.2,406.3 1220.7,406.2 1222.3,406.1 1223.8,406.1 1225.4,406.0 1226.9,405.9 1228.5,405.8 1230.0,405.7 1231.6,405.6 1233.2,405.5 1234.7,405.4 1236.3,405.3 1237.8,405.1 1239.4,405.0 1240.9,404.9 1242.5,404.8 1244.0,404.7 1245.6,404.6 1247.1,404.4 1248.7,404.3 1250.2,404.2 1251.8,404.0 1253.3,403.7 1254.9,403.5 1256.4,403.3 1258.0,403.1 1259.5,402.9 1261.1,402.7" fill="none" stroke="#ff0a0a" stroke-width="3"/>
<rect x="1164.3" y="402.5" width="10.5" height="10.5" fill="#ff0a0a"/>
<rect x="1175.4" y="402.3" width="10.5" height="10.5" fill="#ff0a0a"/>
<rect x="1186.5" y="402.0" width="10.5" height="10.5" fill="#ff0a0a"/>
<rect x="1197.6" y="401.7" width="10.5" height="10.5" fill="#ff0a0a"/>
<rect x="1208.8" y="401.3" width="10.5" height="10.5" fill="#ff0a0a"/>
<rect x="1219.9" y="400.8" width="10.5" height="10.5" fill="#ff0a0a"/>
<rect x="1231.0" y="400.0" width="10.5" height="10.5" fill="#ff0a0a"/>
<rect x="1242.1" y="399.2" width="10.5" height="10.5" fill="#ff0a0a"/>
<rect x="1253.2" y="397.8" width="10.5" height="10.5" fill="#ff0a0a"/>
<polyline points="1169.5,407.7 1171.8,407.7 1174.2,407.6 1176.5,407.6 1178.9,407.5 1181.2,407.5 1183.5,407.4 1185.9,407.4 1188.2,407.3 1190.6,407.3 1192.9,407.2 1195.2,407.1 1197.6,407.0 1199.9,406.9 1202.2,406.8 1204.6,406.7 1206.9,406.6 1209.3,406.6 1211.6,406.3 1213.9,406.1 1216.3,405.9 1218.6,405.7 1221.0,405.5 1223.3,405.2 1225.6,405.0 1228.0,404.8 1230.3,404.5 1232.7,404.2 1235.0,403.8 1237.3,403.4 1239.7,403.1 1242.0,402.7 1244.3,402.4 1246.7,402.0 1249.0,401.6 1251.4,401.0 1253.7,400.2 1256.0,399.4 1258.4,398.6 1260.7,397.9 1263.1,397.1 1265.4,396.3 1267.7,395.5 1270.1,394.8 1272.4,394.1 1274.8,393.4 1277.1,392.7 1279.4,392.0 1281.8,391.4 1284.1,390.7 1286.4,390.0 1288.8,389.3 1291.1,388.7 1293.5,387.6 1295.8,386.6 1298.1,385.5 1300.5,384.4 1302.8,383.3 1305.2,382.2 1307.5,380.9" fill="none" stroke="#000000" stroke-width="3"/>
<circle cx="1169.5" cy="407.7" r="5.3" fill="#000000"/>
<circle cx="1180.6" cy="407.5" r="5.3" fill="#000000"/>
<circle cx="1191.7" cy="407.2" r="5.3" fill="#000000"/>
<circle cx="1202.9" cy="406.8" r="5.3" fill="#000000"/>
<circle cx="1214.0" cy="406.1" r="5.3" fill="#000000"/>
<circle cx="1225.1" cy="405.1" r="5.3" fill="#000000"/>
<circle cx="1236.2" cy="403.6" r="5.3" fill="#000000"/>
<circle cx="1247.3" cy="401.9" r="5.3" fill="#000000"/>
<circle cx="1258.5" cy="398.6" r="5.3" fill="#000000"/>
<circle cx="1269.6" cy="394.9" r="5.3" fill="#000000"/>
<circle cx="1280.7" cy="391.7" r="5.3" fill="#000000"/>
<circle cx="1291.8" cy="388.4" r="5.3" fill="#000000"/>
<circle cx="1302.9" cy="383.2" r="5.3" fill="#000000"/>
<polyline points="1169.5,407.7 1171.3,407.6 1173.2,407.6 1175.0,407.5 1176.9,407.4 1178.7,407.3 1180.6,407.3 1182.4,407.2 1184.3,407.1 1186.1,407.1 1187.9,407.0 1189.8,406.9 1191.6,406.7 1193.5,406.6 1195.3,406.4 1197.2,406.2 1199.0,406.0 1200.8,405.8 1202.7,405.7 1204.5,405.5 1206.4,405.3 1208.2,405.1 1210.1,404.9 1211.9,404.5 1213.8,404.1 1215.6,403.7 1217.4,403.3 1219.3,403.0 1221.1,402.6 1223.0,402.2 1224.8,401.8 1226.7,401.4 1228.5,401.0 1230.4,400.3 1232.2,399.4 1234.0,398.4 1235.9,397.4 1237.7,396.4 1239.6,395.3 1241.4,392.8 1243.3,390.3 1245.1,387.8 1247.0,385.3 1248.8,382.7 1250.6,380.0 1252.5,377.4 1254.3,374.7 1256.2,372.1 1258.0,369.4 1259.9,366.4 1261.7,362.7 1263.5,359.0 1265.4,355.4 1267.2,351.7 1269.1,348.1 1270.9,344.2 1272.8,339.7 1274.6,335.3 1276.5,330.9 1278.3,326.5" fill="none" stroke="#178079" stroke-width="3"/>
<polygon points="1169.5,414.1 1175.6,403.7 1163.4,403.7" fill="#178079"/>
<polygon points="1180.6,413.7 1186.7,403.3 1174.5,403.3" fill="#178079"/>
<polygon points="1191.7,413.1 1197.8,402.8 1185.7,402.8" fill="#178079"/>
<polygon points="1202.9,412.1 1208.9,401.7 1196.8,401.7" fill="#178079"/>
<polygon points="1214.0,410.5 1220.1,400.1 1207.9,400.1" fill="#178079"/>
<polygon points="1225.1,408.1 1231.2,397.8 1219.0,397.8" fill="#178079"/>
<polygon points="1236.2,403.6 1242.3,393.2 1230.1,393.2" fill="#178079"/>
<polygon points="1247.3,391.1 1253.4,380.8 1241.3,380.8" fill="#178079"/>
<polygon points="1258.5,375.2 1264.5,364.8 1252.4,364.8" fill="#178079"/>
<polygon points="1269.6,353.5 1275.7,343.1 1263.5,343.1" fill="#178079"/>
<polyline points="1169.5,407.7 1172.3,407.6 1175.1,407.5 1177.8,407.4 1180.6,407.3 1183.4,407.2 1186.2,407.1 1189.0,407.0 1191.7,406.8 1194.5,406.5 1197.3,406.3 1200.1,406.1 1202.9,405.9 1205.6,405.7 1208.4,405.5 1211.2,405.2 1214.0,404.8 1216.8,404.4 1219.5,404.1 1222.3,403.7 1225.1,403.3 1227.9,402.9 1230.7,402.5 1233.4,401.8 1236.2,401.2 1239.0,400.5 1241.8,399.9 1244.6,399.3 1247.3,398.6 1250.1,397.9 1252.9,396.8 1255.7,395.8 1258.4,394.7 1261.2,393.6 1264.0,392.6 1266.8,391.5 1269.6,390.4 1272.3,387.6 1275.1,384.8 1277.9,382.0 1280.7,379.1 1283.5,376.3 1286.2,373.3 1289.0,370.2 1291.8,367.1 1294.6,364.0 1297.4,360.9 1300.1,357.9 1302.9,354.8 1305.7,350.5 1308.5,345.4 1311.3,340.4 1314.0,335.4 1316.8,329.9 1319.6,324.3 1322.4,318.8 1325.2,313.2 1327.9,307.7 1330.7,292.4 1333.5,275.6" fill="none" stroke="#0000ff" stroke-width="3"/>
<polygon points="1169.5,401.3 1175.6,411.7 1163.4,411.7" fill="#0000ff"/>
<polygon points="1180.6,400.9 1186.7,411.2 1174.5,411.2" fill="#0000ff"/>
<polygon points="1191.7,400.4 1197.8,410.7 1185.7,410.7" fill="#0000ff"/>
<polygon points="1202.9,399.5 1208.9,409.9 1196.8,409.9" fill="#0000ff"/>
<polygon points="1214.0,398.4 1220.1,408.8 1207.9,408.8" fill="#0000ff"/>
<polygon points="1225.1,396.9 1231.2,407.3 1219.0,407.3" fill="#0000ff"/>
<polygon points="1236.2,394.8 1242.3,405.1 1230.1,405.1" fill="#0000ff"/>
<polygon points="1247.3,392.2 1253.4,402.6 1241.3,402.6" fill="#0000ff"/>
<polygon points="1258.5,388.3 1264.5,398.7 1252.4,398.7" fill="#0000ff"/>
<polygon points="1269.6,384.0 1275.7,394.3 1263.5,394.3" fill="#0000ff"/>
<polygon points="1280.7,372.7 1286.8,383.1 1274.6,383.1" fill="#0000ff"/>
<polygon points="1291.8,360.7 1297.9,371.0 1285.7,371.0" fill="#0000ff"/>
<polygon points="1302.9,348.4 1309.0,358.7 1296.9,358.7" fill="#0000ff"/>
<polygon points="1314.1,329.0 1320.1,339.3 1308.0,339.3" fill="#0000ff"/>
<polygon points="1325.2,306.8 1331.3,317.2 1319.1,317.2" fill="#0000ff"/>
<polyline points="1169.5,407.7 1170.0,407.7 1170.6,407.6 1171.1,407.6 1171.7,407.6 1172.2,407.6 1172.8,407.5 1173.3,407.5 1173.8,407.5 1174.4,407.5 1174.9,407.4 1175.5,407.4 1176.0,407.4 1176.6,407.4 1177.1,407.3 1177.6,407.3 1178.2,407.3 1178.7,407.3 1179.3,407.2 1179.8,407.2 1180.3,407.2 1180.9,407.2 1181.4,407.1 1182.0,407.1 1182.5,407.1 1183.1,407.1 1183.6,407.0 1184.1,407.0 1184.7,407.0 1185.2,406.9 1185.8,406.9 1186.3,406.9 1186.9,406.9 1187.4,406.8 1187.9,406.8 1188.5,406.8 1189.0,406.8 1189.6,406.7 1190.1,406.7 1190.7,406.7 1191.2,406.7 1191.7,406.6 1192.3,406.6 1192.8,406.6 1193.4,406.6 1193.9,406.5 1194.4,406.5 1195.0,406.5 1195.5,406.5 1196.1,406.4 1196.6,406.4 1197.2,406.4 1197.7,406.3 1198.2,406.3 1198.8,406.3 1199.3,406.3 1199.9,406.2 1200.4,406.2 1201.0,406.2 1201.5,406.2" fill="none" stroke="#ff00ff" stroke-width="3"/>
<polygon points="1169.5,400.8 1175.0,407.7 1169.5,414.6 1164.0,407.7" fill="#ff00ff"/>
<polygon points="1180.6,400.3 1186.1,407.2 1180.6,414.0 1175.1,407.2" fill="#ff00ff"/>
<polygon points="1191.7,399.8 1197.2,406.6 1191.7,413.5 1186.2,406.6" fill="#ff00ff"/>
</g>
<line x1="1311" y1="418" x2="1311" y2="424" stroke="#e8304a" stroke-width="2"/>
<rect x="1164.5" y="267.3" width="184.0999999999999" height="150.7" fill="none" stroke="#000" stroke-width="6"/>
<line x1="1157" y1="407.7" x2="1164.5" y2="407.7" stroke="#000" stroke-width="3"/>
<text x="1156.50" y="415.50" font-family="Liberation Serif, serif" font-size="23" font-weight="normal" fill="#2a2a2a" text-anchor="end" >0</text>
<line x1="1157" y1="369.4" x2="1164.5" y2="369.4" stroke="#000" stroke-width="3"/>
<text x="1156.50" y="377.20" font-family="Liberation Serif, serif" font-size="23" font-weight="normal" fill="#2a2a2a" text-anchor="end" textLength="32.30" lengthAdjust="spacingAndGlyphs" >100</text>
<line x1="1157" y1="331.1" x2="1164.5" y2="331.1" stroke="#000" stroke-width="3"/>
<text x="1156.50" y="338.90" font-family="Liberation Serif, serif" font-size="23" font-weight="normal" fill="#2a2a2a" text-anchor="end" textLength="32.30" lengthAdjust="spacingAndGlyphs" >200</text>
<line x1="1157" y1="292.8" x2="1164.5" y2="292.8" stroke="#000" stroke-width="3"/>
<text x="1156.50" y="300.60" font-family="Liberation Serif, serif" font-size="23" font-weight="normal" fill="#2a2a2a" text-anchor="end" textLength="32.30" lengthAdjust="spacingAndGlyphs" >300</text>
<line x1="1160" y1="388.6" x2="1164.5" y2="388.6" stroke="#000" stroke-width="2.5"/>
<line x1="1160" y1="350.2" x2="1164.5" y2="350.2" stroke="#000" stroke-width="2.5"/>
<line x1="1160" y1="311.9" x2="1164.5" y2="311.9" stroke="#000" stroke-width="2.5"/>
<line x1="1160" y1="273.6" x2="1164.5" y2="273.6" stroke="#000" stroke-width="2.5"/>
<line x1="1169.5" y1="418" x2="1169.5" y2="424" stroke="#000" stroke-width="3"/>
<line x1="1209.5" y1="418" x2="1209.5" y2="424" stroke="#000" stroke-width="3"/>
<line x1="1249.5" y1="418" x2="1249.5" y2="424" stroke="#000" stroke-width="3"/>
<line x1="1289.5" y1="418" x2="1289.5" y2="424" stroke="#000" stroke-width="3"/>
<line x1="1329.5" y1="418" x2="1329.5" y2="424" stroke="#000" stroke-width="3"/>
<text x="1169.50" y="444.30" font-family="Liberation Serif, serif" font-size="23" font-weight="normal" fill="#2a2a2a" text-anchor="middle" >0</text>
<text x="1249.50" y="444.30" font-family="Liberation Serif, serif" font-size="23" font-weight="normal" fill="#2a2a2a" text-anchor="middle" textLength="31.30" lengthAdjust="spacingAndGlyphs" >200</text>
<text x="1329.50" y="444.30" font-family="Liberation Serif, serif" font-size="23" font-weight="normal" fill="#2a2a2a" text-anchor="middle" textLength="31.30" lengthAdjust="spacingAndGlyphs" >400</text>
<text x="1208.48" y="465.70" font-family="Liberation Serif, serif" font-size="21.23" font-weight="bold" fill="#1a1a1a" text-anchor="start" textLength="103.09" lengthAdjust="spacingAndGlyphs" >Strain (%)</text>
<text transform="translate(1118,410.8) rotate(-90)" font-family="Liberation Serif, serif" font-size="27" font-weight="bold" fill="#1a1a1a" textLength="136.4" lengthAdjust="spacingAndGlyphs">Gauge factor</text>
<rect x="5" y="762" width="765" height="511" fill="#fcfcfc"/>
<polygon points="214.0,839.3 215.1,839.3 216.1,839.2 217.2,839.1 218.3,838.8 219.3,838.6 220.4,838.2 221.5,837.9 222.5,837.4 223.6,837.0 224.7,836.5 225.7,835.9 226.8,835.4 227.8,834.9 228.9,834.3 230.0,833.8 231.0,833.3 232.1,832.9 233.2,832.5 234.2,832.1 235.3,831.8 236.4,831.5 237.4,831.3 238.5,831.2 239.6,831.1 240.6,831.1 241.7,831.1 242.8,831.2 243.8,831.4 244.9,831.5 245.9,831.7 247.0,832.0 248.1,832.2 249.1,832.5 250.2,832.7 251.3,832.9 252.3,833.1 253.4,833.3 254.5,833.4 255.5,833.5 256.6,833.5 257.7,833.5 258.7,833.4 259.8,833.3 260.9,833.0 261.9,832.8 263.0,832.4 264.1,832.1 265.1,831.6 266.2,831.2 267.2,830.7 268.3,830.1 269.4,829.6 270.4,829.1 271.5,828.5 272.6,828.0 273.6,827.5 274.7,827.1 275.8,826.7 276.8,826.3 277.9,826.0 279.0,825.7 280.0,825.5 281.1,825.4 282.2,825.3 283.2,825.3 284.3,825.3 285.4,825.4 286.4,825.6 287.5,825.7 288.6,825.9 289.6,826.2 290.7,826.4 291.7,826.7 292.8,826.9 293.9,827.1 294.9,827.3 296.0,827.5 297.1,827.6 298.1,827.7 299.2,827.7 300.3,827.7 301.3,827.6 302.4,827.5 303.5,827.2 304.5,827.0 305.6,826.6 306.7,826.3 307.7,825.8 308.8,825.4 309.9,824.9 310.9,824.3 312.0,823.8 313.0,823.3 314.1,822.7 315.2,822.2 316.2,821.7 317.3,821.3 318.4,820.9 319.4,820.5 320.5,820.2 321.6,819.9 322.6,819.7 323.7,819.6 324.8,819.5 325.8,819.5 326.9,819.5 328.0,819.6 329.0,819.8 330.1,819.9 331.1,820.1 332.2,820.4 333.3,820.6 334.3,820.9 335.4,821.1 336.5,821.3 337.5,821.5 338.6,821.7 339.7,821.8 340.7,821.9 341.8,821.9 342.9,821.9 343.9,821.8 345.0,821.7 346.1,821.4 347.1,821.2 348.2,820.8 349.3,820.5 350.3,820.0 351.4,819.6 352.5,819.1 353.5,818.5 354.6,818.0 355.6,817.5 356.7,816.9 357.8,816.4 358.8,815.9 359.9,815.5 361.0,815.1 362.0,814.7 363.1,814.4 364.2,814.1 365.2,813.9 366.3,813.8 367.4,813.7 368.4,813.7 369.5,813.7 370.6,813.8 371.6,814.0 372.7,814.1 373.8,814.3 374.8,814.6 375.9,814.8 376.9,815.1 378.0,815.3 379.1,815.5 380.1,815.7 381.2,815.9 382.3,816.0 383.3,816.1 384.4,816.1 385.5,816.1 386.5,816.0 387.6,815.9 388.7,815.6 389.7,815.4 390.8,815.0 391.9,814.7 392.9,814.2 394.0,813.8 395.0,813.3 396.1,812.7 397.2,812.2 398.2,811.7 399.3,811.1 400.4,810.6 401.4,810.1 402.5,809.7 403.6,809.3 404.6,808.9 405.7,808.6 406.8,808.3 407.8,808.1 408.9,808.0 410.0,807.9 411.0,807.9 412.1,807.9 413.2,808.0 414.2,808.2 415.3,808.3 416.4,808.5 417.4,808.8 418.5,809.0 419.5,809.3 420.6,809.5 421.7,809.7 422.7,809.9 423.8,810.1 424.9,810.2 425.9,810.3 427.0,810.3 518.0,843.2 516.7,843.1 515.3,842.9 514.0,842.6 512.7,842.3 511.3,841.8 510.0,841.4 508.7,840.9 507.4,840.4 506.0,839.9 504.7,839.4 503.4,839.0 502.0,838.6 500.7,838.3 499.4,838.1 498.1,838.0 496.7,837.9 495.4,838.0 494.1,838.2 492.7,838.5 491.4,838.9 490.1,839.4 488.7,840.0 487.4,840.7 486.1,841.5 484.8,842.3 483.4,843.2 482.1,844.1 480.8,845.0 479.4,845.9 478.1,846.8 476.8,847.6 475.4,848.4 474.1,849.1 472.8,849.8 471.4,850.3 470.1,850.7 468.8,851.1 467.5,851.3 466.1,851.4 464.8,851.4 463.5,851.3 462.1,851.1 460.8,850.8 459.5,850.5 458.1,850.0 456.8,849.6 455.5,849.1 454.2,848.6 452.8,848.1 451.5,847.6 450.2,847.2 448.8,846.8 447.5,846.5 446.2,846.3 444.9,846.2 443.5,846.1 442.2,846.2 440.9,846.4 439.5,846.7 438.2,847.1 436.9,847.6 435.5,848.2 434.2,848.9 432.9,849.7 431.6,850.5 430.2,851.4 428.9,852.3 427.6,853.2 426.2,854.1 424.9,855.0 423.6,855.8 422.2,856.6 420.9,857.3 419.6,858.0 418.2,858.5 416.9,858.9 415.6,859.3 414.3,859.5 412.9,859.6 411.6,859.6 410.3,859.5 408.9,859.3 407.6,859.0 406.3,858.7 404.9,858.2 403.6,857.8 402.3,857.3 401.0,856.8 399.6,856.3 398.3,855.8 397.0,855.4 395.6,855.0 394.3,854.7 393.0,854.5 391.6,854.4 390.3,854.3 389.0,854.4 387.7,854.6 386.3,854.9 385.0,855.3 383.7,855.8 382.3,856.4 381.0,857.1 379.7,857.9 378.4,858.7 377.0,859.6 375.7,860.5 374.4,861.4 373.0,862.3 371.7,863.2 370.4,864.0 369.0,864.8 367.7,865.5 366.4,866.2 365.1,866.7 363.7,867.1 362.4,867.5 361.1,867.7 359.7,867.8 358.4,867.8 357.1,867.7 355.7,867.5 354.4,867.2 353.1,866.9 351.8,866.4 350.4,866.0 349.1,865.5 347.8,865.0 346.4,864.5 345.1,864.0 343.8,863.6 342.4,863.2 341.1,862.9 339.8,862.7 338.4,862.6 337.1,862.5 335.8,862.6 334.5,862.8 333.1,863.1 331.8,863.5 330.5,864.0 329.1,864.6 327.8,865.3 326.5,866.1 325.1,866.9 323.8,867.8 322.5,868.7 321.2,869.6 319.8,870.5 318.5,871.4 317.2,872.2 315.8,873.0 314.5,873.7 313.2,874.4 311.9,874.9 310.5,875.3 309.2,875.7 307.9,875.9 306.5,876.0 305.2,876.0 303.9,875.9 302.5,875.7 301.2,875.4 299.9,875.1 298.6,874.6 297.2,874.2 295.9,873.7 294.6,873.2 293.2,872.7 291.9,872.2 290.6,871.8 289.2,871.4 287.9,871.1 286.6,870.9 285.2,870.8 283.9,870.7 282.6,870.8 281.3,871.0 279.9,871.3 278.6,871.7 277.3,872.2 275.9,872.8 274.6,873.5 273.3,874.3 271.9,875.1 270.6,876.0 269.3,876.9 268.0,877.8 266.6,878.7 265.3,879.6 264.0,880.4 262.6,881.2 261.3,881.9 260.0,882.6 258.6,883.1 257.3,883.5 256.0,883.9 254.7,884.1 253.3,884.2 252.0,884.2" fill="#e9c24a"/>
<polygon points="252.0,884.2 255.4,884.0 216.7,839.1 214.0,839.3" fill="#c4942e" opacity="1"/>
<polygon points="255.4,884.0 257.3,883.5 218.3,838.8 216.7,839.1" fill="#e0b030" opacity="1"/>
<polygon points="257.3,883.5 272.5,874.8 230.4,833.6 218.3,838.8" fill="#fcdc00" opacity="1"/>
<polygon points="272.5,874.8 275.2,873.2 232.6,832.7 230.4,833.6" fill="#fff000" opacity="1"/>
<polygon points="275.2,873.2 287.7,871.1 242.6,831.2 232.6,832.7" fill="#e8c474" opacity="1"/>
<polygon points="287.7,871.1 293.4,872.8 247.2,832.0 242.6,831.2" fill="#c4942e" opacity="1"/>
<polygon points="293.4,872.8 295.3,873.5 248.7,832.4 247.2,832.0" fill="#e0b030" opacity="1"/>
<polygon points="295.3,873.5 310.5,875.3 260.9,833.0 248.7,832.4" fill="#fcdc00" opacity="1"/>
<polygon points="310.5,875.3 313.2,874.4 263.0,832.4 260.9,833.0" fill="#fff000" opacity="1"/>
<polygon points="313.2,874.4 325.7,866.6 273.0,827.8 263.0,832.4" fill="#e8c474" opacity="1"/>
<polygon points="325.7,866.6 331.4,863.6 277.6,826.1 273.0,827.8" fill="#c4942e" opacity="1"/>
<polygon points="331.4,863.6 333.3,863.0 279.1,825.7 277.6,826.1" fill="#e0b030" opacity="1"/>
<polygon points="333.3,863.0 348.5,865.3 291.3,826.6 279.1,825.7" fill="#fcdc00" opacity="1"/>
<polygon points="348.5,865.3 351.2,866.2 293.4,827.0 291.3,826.6" fill="#fff000" opacity="1"/>
<polygon points="351.2,866.2 363.7,867.1 303.5,827.2 293.4,827.0" fill="#e8c474" opacity="1"/>
<polygon points="363.7,867.1 369.4,864.6 308.0,825.7 303.5,827.2" fill="#c4942e" opacity="1"/>
<polygon points="369.4,864.6 371.3,863.4 309.5,825.0 308.0,825.7" fill="#e0b030" opacity="1"/>
<polygon points="371.3,863.4 386.5,854.8 321.7,819.9 309.5,825.0" fill="#fcdc00" opacity="1"/>
<polygon points="386.5,854.8 389.2,854.4 323.8,819.6 321.7,819.9" fill="#fff000" opacity="1"/>
<polygon points="389.2,854.4 401.7,857.1 333.9,820.8 323.8,819.6" fill="#e8c474" opacity="1"/>
<polygon points="401.7,857.1 407.4,859.0 338.5,821.7 333.9,820.8" fill="#c4942e" opacity="1"/>
<polygon points="407.4,859.0 409.3,859.4 340.0,821.9 338.5,821.7" fill="#e0b030" opacity="1"/>
<polygon points="409.3,859.4 424.5,855.2 352.1,819.2 340.0,821.9" fill="#fcdc00" opacity="1"/>
<polygon points="424.5,855.2 427.2,853.5 354.3,818.2 352.1,819.2" fill="#fff000" opacity="1"/>
<polygon points="427.2,853.5 439.7,846.6 364.3,814.1 354.3,818.2" fill="#e8c474" opacity="1"/>
<polygon points="439.7,846.6 445.4,846.2 368.9,813.7 364.3,814.1" fill="#c4942e" opacity="1"/>
<polygon points="445.4,846.2 447.3,846.5 370.4,813.8 368.9,813.7" fill="#e0b030" opacity="1"/>
<polygon points="447.3,846.5 462.5,851.2 382.6,816.1 370.4,813.8" fill="#fcdc00" opacity="1"/>
<polygon points="462.5,851.2 465.2,851.4 384.7,816.1 382.6,816.1" fill="#fff000" opacity="1"/>
<polygon points="465.2,851.4 477.7,847.0 394.7,813.4 384.7,816.1" fill="#e8c474" opacity="1"/>
<polygon points="477.7,847.0 483.4,843.2 399.3,811.1 394.7,813.4" fill="#c4942e" opacity="1"/>
<polygon points="483.4,843.2 485.3,842.0 400.8,810.4 399.3,811.1" fill="#e0b030" opacity="1"/>
<polygon points="485.3,842.0 500.5,838.3 413.0,808.0 400.8,810.4" fill="#fcdc00" opacity="1"/>
<polygon points="500.5,838.3 503.2,838.9 415.1,808.3 413.0,808.0" fill="#fff000" opacity="1"/>
<polygon points="503.2,838.9 515.7,843.0 425.2,810.3 415.1,808.3" fill="#e8c474" opacity="1"/>
<polygon points="515.7,843.0 518.0,843.2 427.0,810.3 425.2,810.3" fill="#c4942e" opacity="1"/>
<polygon points="214,837 252,880 259,920 221,874" fill="#dadadc"/>
<polygon points="214,837 252,880 253,889 215,846" fill="#f0c400"/>
<polygon points="221,874 259,920 258,911 220,866" fill="#f0c400"/>
<polygon points="216,849 253,893 255,900 218,856" fill="#f8f8f8"/>
<polygon points="252.0,884.2 253.3,884.2 254.7,884.1 256.0,883.9 257.3,883.5 258.6,883.1 260.0,882.6 261.3,881.9 262.6,881.2 264.0,880.4 265.3,879.6 266.6,878.7 268.0,877.8 269.3,876.9 270.6,876.0 271.9,875.1 273.3,874.3 274.6,873.5 275.9,872.8 277.3,872.2 278.6,871.7 279.9,871.3 281.3,871.0 282.6,870.8 283.9,870.7 285.2,870.8 286.6,870.9 287.9,871.1 289.2,871.4 290.6,871.8 291.9,872.2 293.2,872.7 294.6,873.2 295.9,873.7 297.2,874.2 298.6,874.6 299.9,875.1 301.2,875.4 302.5,875.7 303.9,875.9 305.2,876.0 306.5,876.0 307.9,875.9 309.2,875.7 310.5,875.3 311.9,874.9 313.2,874.4 314.5,873.7 315.8,873.0 317.2,872.2 318.5,871.4 319.8,870.5 321.2,869.6 322.5,868.7 323.8,867.8 325.1,866.9 326.5,866.1 327.8,865.3 329.1,864.6 330.5,864.0 331.8,863.5 333.1,863.1 334.5,862.8 335.8,862.6 337.1,862.5 338.4,862.6 339.8,862.7 341.1,862.9 342.4,863.2 343.8,863.6 345.1,864.0 346.4,864.5 347.8,865.0 349.1,865.5 350.4,866.0 351.8,866.4 353.1,866.9 354.4,867.2 355.7,867.5 357.1,867.7 358.4,867.8 359.7,867.8 361.1,867.7 362.4,867.5 363.7,867.1 365.1,866.7 366.4,866.2 367.7,865.5 369.0,864.8 370.4,864.0 371.7,863.2 373.0,862.3 374.4,861.4 375.7,860.5 377.0,859.6 378.4,858.7 379.7,857.9 381.0,857.1 382.3,856.4 383.7,855.8 385.0,855.3 386.3,854.9 387.7,854.6 389.0,854.4 390.3,854.3 391.6,854.4 393.0,854.5 394.3,854.7 395.6,855.0 397.0,855.4 398.3,855.8 399.6,856.3 401.0,856.8 402.3,857.3 403.6,857.8 404.9,858.2 406.3,858.7 407.6,859.0 408.9,859.3 410.3,859.5 411.6,859.6 412.9,859.6 414.3,859.5 415.6,859.3 416.9,858.9 418.2,858.5 419.6,858.0 420.9,857.3 422.2,856.6 423.6,855.8 424.9,855.0 426.2,854.1 427.6,853.2 428.9,852.3 430.2,851.4 431.6,850.5 432.9,849.7 434.2,848.9 435.5,848.2 436.9,847.6 438.2,847.1 439.5,846.7 440.9,846.4 442.2,846.2 443.5,846.1 444.9,846.2 446.2,846.3 447.5,846.5 448.8,846.8 450.2,847.2 451.5,847.6 452.8,848.1 454.2,848.6 455.5,849.1 456.8,849.6 458.1,850.0 459.5,850.5 460.8,850.8 462.1,851.1 463.5,851.3 464.8,851.4 466.1,851.4 467.5,851.3 468.8,851.1 470.1,850.7 471.4,850.3 472.8,849.8 474.1,849.1 475.4,848.4 476.8,847.6 478.1,846.8 479.4,845.9 480.8,845.0 482.1,844.1 483.4,843.2 484.8,842.3 486.1,841.5 487.4,840.7 488.7,840.0 490.1,839.4 491.4,838.9 492.7,838.5 494.1,838.2 495.4,838.0 496.7,837.9 498.1,838.0 499.4,838.1 500.7,838.3 502.0,838.6 503.4,839.0 504.7,839.4 506.0,839.9 507.4,840.4 508.7,840.9 510.0,841.4 511.3,841.8 512.7,842.3 514.0,842.6 515.3,842.9 516.7,843.1 518.0,843.2 518.0,884.2 516.7,884.1 515.3,883.9 514.0,883.6 512.7,883.3 511.3,882.8 510.0,882.4 508.7,881.9 507.4,881.4 506.0,880.9 504.7,880.4 503.4,880.0 502.0,879.6 500.7,879.3 499.4,879.1 498.1,879.0 496.7,878.9 495.4,879.0 494.1,879.2 492.7,879.5 491.4,879.9 490.1,880.4 488.7,881.0 487.4,881.7 486.1,882.5 484.8,883.3 483.4,884.2 482.1,885.1 480.8,886.0 479.4,886.9 478.1,887.8 476.8,888.6 475.4,889.4 474.1,890.1 472.8,890.8 471.4,891.3 470.1,891.7 468.8,892.1 467.5,892.3 466.1,892.4 464.8,892.4 463.5,892.3 462.1,892.1 460.8,891.8 459.5,891.5 458.1,891.0 456.8,890.6 455.5,890.1 454.2,889.6 452.8,889.1 451.5,888.6 450.2,888.2 448.8,887.8 447.5,887.5 446.2,887.3 444.9,887.2 443.5,887.1 442.2,887.2 440.9,887.4 439.5,887.7 438.2,888.1 436.9,888.6 435.5,889.2 434.2,889.9 432.9,890.7 431.6,891.5 430.2,892.4 428.9,893.3 427.6,894.2 426.2,895.1 424.9,896.0 423.6,896.8 422.2,897.6 420.9,898.3 419.6,899.0 418.2,899.5 416.9,899.9 415.6,900.3 414.3,900.5 412.9,900.6 411.6,900.6 410.3,900.5 408.9,900.3 407.6,900.0 406.3,899.7 404.9,899.2 403.6,898.8 402.3,898.3 401.0,897.8 399.6,897.3 398.3,896.8 397.0,896.4 395.6,896.0 394.3,895.7 393.0,895.5 391.6,895.4 390.3,895.3 389.0,895.4 387.7,895.6 386.3,895.9 385.0,896.3 383.7,896.8 382.3,897.4 381.0,898.1 379.7,898.9 378.4,899.7 377.0,900.6 375.7,901.5 374.4,902.4 373.0,903.3 371.7,904.2 370.4,905.0 369.0,905.8 367.7,906.5 366.4,907.2 365.1,907.7 363.7,908.1 362.4,908.5 361.1,908.7 359.7,908.8 358.4,908.8 357.1,908.7 355.7,908.5 354.4,908.2 353.1,907.9 351.8,907.4 350.4,907.0 349.1,906.5 347.8,906.0 346.4,905.5 345.1,905.0 343.8,904.6 342.4,904.2 341.1,903.9 339.8,903.7 338.4,903.6 337.1,903.5 335.8,903.6 334.5,903.8 333.1,904.1 331.8,904.5 330.5,905.0 329.1,905.6 327.8,906.3 326.5,907.1 325.1,907.9 323.8,908.8 322.5,909.7 321.2,910.6 319.8,911.5 318.5,912.4 317.2,913.2 315.8,914.0 314.5,914.7 313.2,915.4 311.9,915.9 310.5,916.3 309.2,916.7 307.9,916.9 306.5,917.0 305.2,917.0 303.9,916.9 302.5,916.7 301.2,916.4 299.9,916.1 298.6,915.6 297.2,915.2 295.9,914.7 294.6,914.2 293.2,913.7 291.9,913.2 290.6,912.8 289.2,912.4 287.9,912.1 286.6,911.9 285.2,911.8 283.9,911.7 282.6,911.8 281.3,912.0 279.9,912.3 278.6,912.7 277.3,913.2 275.9,913.8 274.6,914.5 273.3,915.3 271.9,916.1 270.6,917.0 269.3,917.9 268.0,918.8 266.6,919.7 265.3,920.6 264.0,921.4 262.6,922.2 261.3,922.9 260.0,923.6 258.6,924.1 257.3,924.5 256.0,924.9 254.7,925.1 253.3,925.2 252.0,925.2" fill="#f6d000"/>
<polygon points="252.0,891.2 253.3,891.2 254.7,891.1 256.0,890.9 257.3,890.5 258.6,890.1 260.0,889.6 261.3,888.9 262.6,888.2 264.0,887.4 265.3,886.6 266.6,885.7 268.0,884.8 269.3,883.9 270.6,883.0 271.9,882.1 273.3,881.3 274.6,880.5 275.9,879.8 277.3,879.2 278.6,878.7 279.9,878.3 281.3,878.0 282.6,877.8 283.9,877.7 285.2,877.8 286.6,877.9 287.9,878.1 289.2,878.4 290.6,878.8 291.9,879.2 293.2,879.7 294.6,880.2 295.9,880.7 297.2,881.2 298.6,881.6 299.9,882.1 301.2,882.4 302.5,882.7 303.9,882.9 305.2,883.0 306.5,883.0 307.9,882.9 309.2,882.7 310.5,882.3 311.9,881.9 313.2,881.4 314.5,880.7 315.8,880.0 317.2,879.2 318.5,878.4 319.8,877.5 321.2,876.6 322.5,875.7 323.8,874.8 325.1,873.9 326.5,873.1 327.8,872.3 329.1,871.6 330.5,871.0 331.8,870.5 333.1,870.1 334.5,869.8 335.8,869.6 337.1,869.5 338.4,869.6 339.8,869.7 341.1,869.9 342.4,870.2 343.8,870.6 345.1,871.0 346.4,871.5 347.8,872.0 349.1,872.5 350.4,873.0 351.8,873.4 353.1,873.9 354.4,874.2 355.7,874.5 357.1,874.7 358.4,874.8 359.7,874.8 361.1,874.7 362.4,874.5 363.7,874.1 365.1,873.7 366.4,873.2 367.7,872.5 369.0,871.8 370.4,871.0 371.7,870.2 373.0,869.3 374.4,868.4 375.7,867.5 377.0,866.6 378.4,865.7 379.7,864.9 381.0,864.1 382.3,863.4 383.7,862.8 385.0,862.3 386.3,861.9 387.7,861.6 389.0,861.4 390.3,861.3 391.6,861.4 393.0,861.5 394.3,861.7 395.6,862.0 397.0,862.4 398.3,862.8 399.6,863.3 401.0,863.8 402.3,864.3 403.6,864.8 404.9,865.2 406.3,865.7 407.6,866.0 408.9,866.3 410.3,866.5 411.6,866.6 412.9,866.6 414.3,866.5 415.6,866.3 416.9,865.9 418.2,865.5 419.6,865.0 420.9,864.3 422.2,863.6 423.6,862.8 424.9,862.0 426.2,861.1 427.6,860.2 428.9,859.3 430.2,858.4 431.6,857.5 432.9,856.7 434.2,855.9 435.5,855.2 436.9,854.6 438.2,854.1 439.5,853.7 440.9,853.4 442.2,853.2 443.5,853.1 444.9,853.2 446.2,853.3 447.5,853.5 448.8,853.8 450.2,854.2 451.5,854.6 452.8,855.1 454.2,855.6 455.5,856.1 456.8,856.6 458.1,857.0 459.5,857.5 460.8,857.8 462.1,858.1 463.5,858.3 464.8,858.4 466.1,858.4 467.5,858.3 468.8,858.1 470.1,857.7 471.4,857.3 472.8,856.8 474.1,856.1 475.4,855.4 476.8,854.6 478.1,853.8 479.4,852.9 480.8,852.0 482.1,851.1 483.4,850.2 484.8,849.3 486.1,848.5 487.4,847.7 488.7,847.0 490.1,846.4 491.4,845.9 492.7,845.5 494.1,845.2 495.4,845.0 496.7,844.9 498.1,845.0 499.4,845.1 500.7,845.3 502.0,845.6 503.4,846.0 504.7,846.4 506.0,846.9 507.4,847.4 508.7,847.9 510.0,848.4 511.3,848.8 512.7,849.3 514.0,849.6 515.3,849.9 516.7,850.1 518.0,850.2 518.0,855.7 516.7,855.6 515.3,855.4 514.0,855.1 512.7,854.8 511.3,854.3 510.0,853.9 508.7,853.4 507.4,852.9 506.0,852.4 504.7,851.9 503.4,851.5 502.0,851.1 500.7,850.8 499.4,850.6 498.1,850.5 496.7,850.4 495.4,850.5 494.1,850.7 492.7,851.0 491.4,851.4 490.1,851.9 488.7,852.5 487.4,853.2 486.1,854.0 484.8,854.8 483.4,855.7 482.1,856.6 480.8,857.5 479.4,858.4 478.1,859.3 476.8,860.1 475.4,860.9 474.1,861.6 472.8,862.3 471.4,862.8 470.1,863.2 468.8,863.6 467.5,863.8 466.1,863.9 464.8,863.9 463.5,863.8 462.1,863.6 460.8,863.3 459.5,863.0 458.1,862.5 456.8,862.1 455.5,861.6 454.2,861.1 452.8,860.6 451.5,860.1 450.2,859.7 448.8,859.3 447.5,859.0 446.2,858.8 444.9,858.7 443.5,858.6 442.2,858.7 440.9,858.9 439.5,859.2 438.2,859.6 436.9,860.1 435.5,860.7 434.2,861.4 432.9,862.2 431.6,863.0 430.2,863.9 428.9,864.8 427.6,865.7 426.2,866.6 424.9,867.5 423.6,868.3 422.2,869.1 420.9,869.8 419.6,870.5 418.2,871.0 416.9,871.4 415.6,871.8 414.3,872.0 412.9,872.1 411.6,872.1 410.3,872.0 408.9,871.8 407.6,871.5 406.3,871.2 404.9,870.7 403.6,870.3 402.3,869.8 401.0,869.3 399.6,868.8 398.3,868.3 397.0,867.9 395.6,867.5 394.3,867.2 393.0,867.0 391.6,866.9 390.3,866.8 389.0,866.9 387.7,867.1 386.3,867.4 385.0,867.8 383.7,868.3 382.3,868.9 381.0,869.6 379.7,870.4 378.4,871.2 377.0,872.1 375.7,873.0 374.4,873.9 373.0,874.8 371.7,875.7 370.4,876.5 369.0,877.3 367.7,878.0 366.4,878.7 365.1,879.2 363.7,879.6 362.4,880.0 361.1,880.2 359.7,880.3 358.4,880.3 357.1,880.2 355.7,880.0 354.4,879.7 353.1,879.4 351.8,878.9 350.4,878.5 349.1,878.0 347.8,877.5 346.4,877.0 345.1,876.5 343.8,876.1 342.4,875.7 341.1,875.4 339.8,875.2 338.4,875.1 337.1,875.0 335.8,875.1 334.5,875.3 333.1,875.6 331.8,876.0 330.5,876.5 329.1,877.1 327.8,877.8 326.5,878.6 325.1,879.4 323.8,880.3 322.5,881.2 321.2,882.1 319.8,883.0 318.5,883.9 317.2,884.7 315.8,885.5 314.5,886.2 313.2,886.9 311.9,887.4 310.5,887.8 309.2,888.2 307.9,888.4 306.5,888.5 305.2,888.5 303.9,888.4 302.5,888.2 301.2,887.9 299.9,887.6 298.6,887.1 297.2,886.7 295.9,886.2 294.6,885.7 293.2,885.2 291.9,884.7 290.6,884.3 289.2,883.9 287.9,883.6 286.6,883.4 285.2,883.3 283.9,883.2 282.6,883.3 281.3,883.5 279.9,883.8 278.6,884.2 277.3,884.7 275.9,885.3 274.6,886.0 273.3,886.8 271.9,887.6 270.6,888.5 269.3,889.4 268.0,890.3 266.6,891.2 265.3,892.1 264.0,892.9 262.6,893.7 261.3,894.4 260.0,895.1 258.6,895.6 257.3,896.0 256.0,896.4 254.7,896.6 253.3,896.7 252.0,896.7" fill="#d6d8da"/>
<polygon points="252.0,896.7 253.3,896.7 254.7,896.6 256.0,896.4 257.3,896.0 258.6,895.6 260.0,895.1 261.3,894.4 262.6,893.7 264.0,892.9 265.3,892.1 266.6,891.2 268.0,890.3 269.3,889.4 270.6,888.5 271.9,887.6 273.3,886.8 274.6,886.0 275.9,885.3 277.3,884.7 278.6,884.2 279.9,883.8 281.3,883.5 282.6,883.3 283.9,883.2 285.2,883.3 286.6,883.4 287.9,883.6 289.2,883.9 290.6,884.3 291.9,884.7 293.2,885.2 294.6,885.7 295.9,886.2 297.2,886.7 298.6,887.1 299.9,887.6 301.2,887.9 302.5,888.2 303.9,888.4 305.2,888.5 306.5,888.5 307.9,888.4 309.2,888.2 310.5,887.8 311.9,887.4 313.2,886.9 314.5,886.2 315.8,885.5 317.2,884.7 318.5,883.9 319.8,883.0 321.2,882.1 322.5,881.2 323.8,880.3 325.1,879.4 326.5,878.6 327.8,877.8 329.1,877.1 330.5,876.5 331.8,876.0 333.1,875.6 334.5,875.3 335.8,875.1 337.1,875.0 338.4,875.1 339.8,875.2 341.1,875.4 342.4,875.7 343.8,876.1 345.1,876.5 346.4,877.0 347.8,877.5 349.1,878.0 350.4,878.5 351.8,878.9 353.1,879.4 354.4,879.7 355.7,880.0 357.1,880.2 358.4,880.3 359.7,880.3 361.1,880.2 362.4,880.0 363.7,879.6 365.1,879.2 366.4,878.7 367.7,878.0 369.0,877.3 370.4,876.5 371.7,875.7 373.0,874.8 374.4,873.9 375.7,873.0 377.0,872.1 378.4,871.2 379.7,870.4 381.0,869.6 382.3,868.9 383.7,868.3 385.0,867.8 386.3,867.4 387.7,867.1 389.0,866.9 390.3,866.8 391.6,866.9 393.0,867.0 394.3,867.2 395.6,867.5 397.0,867.9 398.3,868.3 399.6,868.8 401.0,869.3 402.3,869.8 403.6,870.3 404.9,870.7 406.3,871.2 407.6,871.5 408.9,871.8 410.3,872.0 411.6,872.1 412.9,872.1 414.3,872.0 415.6,871.8 416.9,871.4 418.2,871.0 419.6,870.5 420.9,869.8 422.2,869.1 423.6,868.3 424.9,867.5 426.2,866.6 427.6,865.7 428.9,864.8 430.2,863.9 431.6,863.0 432.9,862.2 434.2,861.4 435.5,860.7 436.9,860.1 438.2,859.6 439.5,859.2 440.9,858.9 442.2,858.7 443.5,858.6 444.9,858.7 446.2,858.8 447.5,859.0 448.8,859.3 450.2,859.7 451.5,860.1 452.8,860.6 454.2,861.1 455.5,861.6 456.8,862.1 458.1,862.5 459.5,863.0 460.8,863.3 462.1,863.6 463.5,863.8 464.8,863.9 466.1,863.9 467.5,863.8 468.8,863.6 470.1,863.2 471.4,862.8 472.8,862.3 474.1,861.6 475.4,860.9 476.8,860.1 478.1,859.3 479.4,858.4 480.8,857.5 482.1,856.6 483.4,855.7 484.8,854.8 486.1,854.0 487.4,853.2 488.7,852.5 490.1,851.9 491.4,851.4 492.7,851.0 494.1,850.7 495.4,850.5 496.7,850.4 498.1,850.5 499.4,850.6 500.7,850.8 502.0,851.1 503.4,851.5 504.7,851.9 506.0,852.4 507.4,852.9 508.7,853.4 510.0,853.9 511.3,854.3 512.7,854.8 514.0,855.1 515.3,855.4 516.7,855.6 518.0,855.7 518.0,872.2 516.7,872.1 515.3,871.9 514.0,871.6 512.7,871.3 511.3,870.8 510.0,870.4 508.7,869.9 507.4,869.4 506.0,868.9 504.7,868.4 503.4,868.0 502.0,867.6 500.7,867.3 499.4,867.1 498.1,867.0 496.7,866.9 495.4,867.0 494.1,867.2 492.7,867.5 491.4,867.9 490.1,868.4 488.7,869.0 487.4,869.7 486.1,870.5 484.8,871.3 483.4,872.2 482.1,873.1 480.8,874.0 479.4,874.9 478.1,875.8 476.8,876.6 475.4,877.4 474.1,878.1 472.8,878.8 471.4,879.3 470.1,879.7 468.8,880.1 467.5,880.3 466.1,880.4 464.8,880.4 463.5,880.3 462.1,880.1 460.8,879.8 459.5,879.5 458.1,879.0 456.8,878.6 455.5,878.1 454.2,877.6 452.8,877.1 451.5,876.6 450.2,876.2 448.8,875.8 447.5,875.5 446.2,875.3 444.9,875.2 443.5,875.1 442.2,875.2 440.9,875.4 439.5,875.7 438.2,876.1 436.9,876.6 435.5,877.2 434.2,877.9 432.9,878.7 431.6,879.5 430.2,880.4 428.9,881.3 427.6,882.2 426.2,883.1 424.9,884.0 423.6,884.8 422.2,885.6 420.9,886.3 419.6,887.0 418.2,887.5 416.9,887.9 415.6,888.3 414.3,888.5 412.9,888.6 411.6,888.6 410.3,888.5 408.9,888.3 407.6,888.0 406.3,887.7 404.9,887.2 403.6,886.8 402.3,886.3 401.0,885.8 399.6,885.3 398.3,884.8 397.0,884.4 395.6,884.0 394.3,883.7 393.0,883.5 391.6,883.4 390.3,883.3 389.0,883.4 387.7,883.6 386.3,883.9 385.0,884.3 383.7,884.8 382.3,885.4 381.0,886.1 379.7,886.9 378.4,887.7 377.0,888.6 375.7,889.5 374.4,890.4 373.0,891.3 371.7,892.2 370.4,893.0 369.0,893.8 367.7,894.5 366.4,895.2 365.1,895.7 363.7,896.1 362.4,896.5 361.1,896.7 359.7,896.8 358.4,896.8 357.1,896.7 355.7,896.5 354.4,896.2 353.1,895.9 351.8,895.4 350.4,895.0 349.1,894.5 347.8,894.0 346.4,893.5 345.1,893.0 343.8,892.6 342.4,892.2 341.1,891.9 339.8,891.7 338.4,891.6 337.1,891.5 335.8,891.6 334.5,891.8 333.1,892.1 331.8,892.5 330.5,893.0 329.1,893.6 327.8,894.3 326.5,895.1 325.1,895.9 323.8,896.8 322.5,897.7 321.2,898.6 319.8,899.5 318.5,900.4 317.2,901.2 315.8,902.0 314.5,902.7 313.2,903.4 311.9,903.9 310.5,904.3 309.2,904.7 307.9,904.9 306.5,905.0 305.2,905.0 303.9,904.9 302.5,904.7 301.2,904.4 299.9,904.1 298.6,903.6 297.2,903.2 295.9,902.7 294.6,902.2 293.2,901.7 291.9,901.2 290.6,900.8 289.2,900.4 287.9,900.1 286.6,899.9 285.2,899.8 283.9,899.7 282.6,899.8 281.3,900.0 279.9,900.3 278.6,900.7 277.3,901.2 275.9,901.8 274.6,902.5 273.3,903.3 271.9,904.1 270.6,905.0 269.3,905.9 268.0,906.8 266.6,907.7 265.3,908.6 264.0,909.4 262.6,910.2 261.3,910.9 260.0,911.6 258.6,912.1 257.3,912.5 256.0,912.9 254.7,913.1 253.3,913.2 252.0,913.2" fill="#b0b1b3"/>
<polygon points="252.0,913.2 253.3,913.2 254.7,913.1 256.0,912.9 257.3,912.5 258.6,912.1 260.0,911.6 261.3,910.9 262.6,910.2 264.0,909.4 265.3,908.6 266.6,907.7 268.0,906.8 269.3,905.9 270.6,905.0 271.9,904.1 273.3,903.3 274.6,902.5 275.9,901.8 277.3,901.2 278.6,900.7 279.9,900.3 281.3,900.0 282.6,899.8 283.9,899.7 285.2,899.8 286.6,899.9 287.9,900.1 289.2,900.4 290.6,900.8 291.9,901.2 293.2,901.7 294.6,902.2 295.9,902.7 297.2,903.2 298.6,903.6 299.9,904.1 301.2,904.4 302.5,904.7 303.9,904.9 305.2,905.0 306.5,905.0 307.9,904.9 309.2,904.7 310.5,904.3 311.9,903.9 313.2,903.4 314.5,902.7 315.8,902.0 317.2,901.2 318.5,900.4 319.8,899.5 321.2,898.6 322.5,897.7 323.8,896.8 325.1,895.9 326.5,895.1 327.8,894.3 329.1,893.6 330.5,893.0 331.8,892.5 333.1,892.1 334.5,891.8 335.8,891.6 337.1,891.5 338.4,891.6 339.8,891.7 341.1,891.9 342.4,892.2 343.8,892.6 345.1,893.0 346.4,893.5 347.8,894.0 349.1,894.5 350.4,895.0 351.8,895.4 353.1,895.9 354.4,896.2 355.7,896.5 357.1,896.7 358.4,896.8 359.7,896.8 361.1,896.7 362.4,896.5 363.7,896.1 365.1,895.7 366.4,895.2 367.7,894.5 369.0,893.8 370.4,893.0 371.7,892.2 373.0,891.3 374.4,890.4 375.7,889.5 377.0,888.6 378.4,887.7 379.7,886.9 381.0,886.1 382.3,885.4 383.7,884.8 385.0,884.3 386.3,883.9 387.7,883.6 389.0,883.4 390.3,883.3 391.6,883.4 393.0,883.5 394.3,883.7 395.6,884.0 397.0,884.4 398.3,884.8 399.6,885.3 401.0,885.8 402.3,886.3 403.6,886.8 404.9,887.2 406.3,887.7 407.6,888.0 408.9,888.3 410.3,888.5 411.6,888.6 412.9,888.6 414.3,888.5 415.6,888.3 416.9,887.9 418.2,887.5 419.6,887.0 420.9,886.3 422.2,885.6 423.6,884.8 424.9,884.0 426.2,883.1 427.6,882.2 428.9,881.3 430.2,880.4 431.6,879.5 432.9,878.7 434.2,877.9 435.5,877.2 436.9,876.6 438.2,876.1 439.5,875.7 440.9,875.4 442.2,875.2 443.5,875.1 444.9,875.2 446.2,875.3 447.5,875.5 448.8,875.8 450.2,876.2 451.5,876.6 452.8,877.1 454.2,877.6 455.5,878.1 456.8,878.6 458.1,879.0 459.5,879.5 460.8,879.8 462.1,880.1 463.5,880.3 464.8,880.4 466.1,880.4 467.5,880.3 468.8,880.1 470.1,879.7 471.4,879.3 472.8,878.8 474.1,878.1 475.4,877.4 476.8,876.6 478.1,875.8 479.4,874.9 480.8,874.0 482.1,873.1 483.4,872.2 484.8,871.3 486.1,870.5 487.4,869.7 488.7,869.0 490.1,868.4 491.4,867.9 492.7,867.5 494.1,867.2 495.4,867.0 496.7,866.9 498.1,867.0 499.4,867.1 500.7,867.3 502.0,867.6 503.4,868.0 504.7,868.4 506.0,868.9 507.4,869.4 508.7,869.9 510.0,870.4 511.3,870.8 512.7,871.3 514.0,871.6 515.3,871.9 516.7,872.1 518.0,872.2 518.0,877.2 516.7,877.1 515.3,876.9 514.0,876.6 512.7,876.3 511.3,875.8 510.0,875.4 508.7,874.9 507.4,874.4 506.0,873.9 504.7,873.4 503.4,873.0 502.0,872.6 500.7,872.3 499.4,872.1 498.1,872.0 496.7,871.9 495.4,872.0 494.1,872.2 492.7,872.5 491.4,872.9 490.1,873.4 488.7,874.0 487.4,874.7 486.1,875.5 484.8,876.3 483.4,877.2 482.1,878.1 480.8,879.0 479.4,879.9 478.1,880.8 476.8,881.6 475.4,882.4 474.1,883.1 472.8,883.8 471.4,884.3 470.1,884.7 468.8,885.1 467.5,885.3 466.1,885.4 464.8,885.4 463.5,885.3 462.1,885.1 460.8,884.8 459.5,884.5 458.1,884.0 456.8,883.6 455.5,883.1 454.2,882.6 452.8,882.1 451.5,881.6 450.2,881.2 448.8,880.8 447.5,880.5 446.2,880.3 444.9,880.2 443.5,880.1 442.2,880.2 440.9,880.4 439.5,880.7 438.2,881.1 436.9,881.6 435.5,882.2 434.2,882.9 432.9,883.7 431.6,884.5 430.2,885.4 428.9,886.3 427.6,887.2 426.2,888.1 424.9,889.0 423.6,889.8 422.2,890.6 420.9,891.3 419.6,892.0 418.2,892.5 416.9,892.9 415.6,893.3 414.3,893.5 412.9,893.6 411.6,893.6 410.3,893.5 408.9,893.3 407.6,893.0 406.3,892.7 404.9,892.2 403.6,891.8 402.3,891.3 401.0,890.8 399.6,890.3 398.3,889.8 397.0,889.4 395.6,889.0 394.3,888.7 393.0,888.5 391.6,888.4 390.3,888.3 389.0,888.4 387.7,888.6 386.3,888.9 385.0,889.3 383.7,889.8 382.3,890.4 381.0,891.1 379.7,891.9 378.4,892.7 377.0,893.6 375.7,894.5 374.4,895.4 373.0,896.3 371.7,897.2 370.4,898.0 369.0,898.8 367.7,899.5 366.4,900.2 365.1,900.7 363.7,901.1 362.4,901.5 361.1,901.7 359.7,901.8 358.4,901.8 357.1,901.7 355.7,901.5 354.4,901.2 353.1,900.9 351.8,900.4 350.4,900.0 349.1,899.5 347.8,899.0 346.4,898.5 345.1,898.0 343.8,897.6 342.4,897.2 341.1,896.9 339.8,896.7 338.4,896.6 337.1,896.5 335.8,896.6 334.5,896.8 333.1,897.1 331.8,897.5 330.5,898.0 329.1,898.6 327.8,899.3 326.5,900.1 325.1,900.9 323.8,901.8 322.5,902.7 321.2,903.6 319.8,904.5 318.5,905.4 317.2,906.2 315.8,907.0 314.5,907.7 313.2,908.4 311.9,908.9 310.5,909.3 309.2,909.7 307.9,909.9 306.5,910.0 305.2,910.0 303.9,909.9 302.5,909.7 301.2,909.4 299.9,909.1 298.6,908.6 297.2,908.2 295.9,907.7 294.6,907.2 293.2,906.7 291.9,906.2 290.6,905.8 289.2,905.4 287.9,905.1 286.6,904.9 285.2,904.8 283.9,904.7 282.6,904.8 281.3,905.0 279.9,905.3 278.6,905.7 277.3,906.2 275.9,906.8 274.6,907.5 273.3,908.3 271.9,909.1 270.6,910.0 269.3,910.9 268.0,911.8 266.6,912.7 265.3,913.6 264.0,914.4 262.6,915.2 261.3,915.9 260.0,916.6 258.6,917.1 257.3,917.5 256.0,917.9 254.7,918.1 253.3,918.2 252.0,918.2" fill="#d6d8da"/>
<polygon points="518,838 520,842 505,883 503,879" fill="#e8c000"/>
<polygon points="244,1161 556.5,1108 688,1136 355,1214" fill="url(#flatG)"/>
<polygon points="355,1214 688,1136 684,1152 355,1233" fill="#d8d8da"/>
<polygon points="355,1219 688,1141 687,1145 355,1225" fill="#a4a4a6"/>
<polygon points="244,1161 355,1214 355,1233 250,1179" fill="#e4e4e6"/>
<polyline points="244,1161 355,1214 688,1136" fill="none" stroke="#c8982a" stroke-width="1.6"/>
<polyline points="250,1179 355,1233 684,1152" fill="none" stroke="#d6a830" stroke-width="2.2"/>
<polygon points="335.4,975.8 346,972.3 381,1058 370.5,1062" fill="#231f20"/>
<polygon points="348.1,1063.5 400.7,1043.9 391.6,1095.1" fill="#231f20"/>
<polygon points="488.5,1069 498,1065 460,979 450,983" fill="#ff1020"/>
<polygon points="433.7,996.8 487,978.6 443.5,946.3" fill="#ff1020"/>
<text x="40.97" y="859.00" font-family="Liberation Sans, sans-serif" font-size="54.57" font-weight="normal" fill="#1e1e1e" text-anchor="start" textLength="80.60" lengthAdjust="spacingAndGlyphs" >0%</text>
<text x="7.37" y="920.60" font-family="Liberation Sans, sans-serif" font-size="53.43" font-weight="normal" fill="#1e1e1e" text-anchor="start" textLength="148.07" lengthAdjust="spacingAndGlyphs" >Strain</text>
<text x="10.66" y="1162.60" font-family="Liberation Sans, sans-serif" font-size="55.36" font-weight="normal" fill="#1e1e1e" text-anchor="start" textLength="141.93" lengthAdjust="spacingAndGlyphs" >140%</text>
<text x="8.08" y="1225.00" font-family="Liberation Sans, sans-serif" font-size="54.43" font-weight="normal" fill="#1e1e1e" text-anchor="start" textLength="147.34" lengthAdjust="spacingAndGlyphs" >Strain</text>
<text x="124.11" y="1038.70" font-family="Liberation Sans, sans-serif" font-size="52.47" font-weight="bold" fill="#1e1e1e" text-anchor="start" textLength="193.76" lengthAdjust="spacingAndGlyphs" >Stretch</text>
<text x="514.65" y="1039.00" font-family="Liberation Sans, sans-serif" font-size="55.22" font-weight="bold" fill="#ff1020" text-anchor="start" textLength="213.18" lengthAdjust="spacingAndGlyphs" >Release</text>
<rect x="866.8" y="779" width="541.4000000000001" height="404.5" fill="#ffffff"/>
<g clip-path="url(#plotB)">
<polyline points="877.5,1175.3 951.4,1157.6 1025.2,1140.0 1099.0,1122.3 1172.9,1104.7 1246.8,1087.0 1320.6,1069.4 1394.4,1051.7" fill="none" stroke="#2448b0" stroke-width="3.6" stroke-linejoin="round"/>
<circle cx="877.5" cy="1175.3" r="5.8" fill="#2448b0"/>
<circle cx="951.4" cy="1157.6" r="5.8" fill="#2448b0"/>
<circle cx="1025.2" cy="1140.0" r="5.8" fill="#2448b0"/>
<circle cx="1099.0" cy="1122.3" r="5.8" fill="#2448b0"/>
<circle cx="1172.9" cy="1104.7" r="5.8" fill="#2448b0"/>
<circle cx="1246.8" cy="1087.0" r="5.8" fill="#2448b0"/>
<circle cx="1320.6" cy="1069.4" r="5.8" fill="#2448b0"/>
<circle cx="1394.4" cy="1051.7" r="5.8" fill="#2448b0"/>
<polyline points="878.7,1177.3 952.6,1146.4 1026.4,1104.9 1100.2,1057.3 1174.1,1002.5 1248.0,940.8 1321.8,872.8 1395.6,799.5" fill="none" stroke="#0a0a0a" stroke-width="4.2" stroke-linejoin="round"/>
<circle cx="878.3" cy="1176.8" r="5.8" fill="#0a0a0a"/>
<circle cx="952.1" cy="1145.9" r="5.8" fill="#0a0a0a"/>
<circle cx="1026.0" cy="1104.4" r="5.8" fill="#0a0a0a"/>
<circle cx="1099.8" cy="1056.8" r="5.8" fill="#0a0a0a"/>
<circle cx="1173.7" cy="1002.0" r="5.8" fill="#0a0a0a"/>
<circle cx="1247.5" cy="940.3" r="5.8" fill="#0a0a0a"/>
<circle cx="1321.4" cy="872.3" r="5.8" fill="#0a0a0a"/>
<circle cx="1395.2" cy="799.0" r="5.8" fill="#0a0a0a"/>
<polyline points="877.5,1172.7 951.4,1140.9 1025.2,1097.6 1099.0,1050.9 1172.9,997.0 1246.8,941.4 1320.6,875.2 1394.4,797.5" fill="none" stroke="#ff1a1a" stroke-width="4.6" stroke-linejoin="round"/>
<circle cx="877.5" cy="1172.7" r="6" fill="#ff1a1a"/>
<circle cx="951.4" cy="1140.9" r="6" fill="#ff1a1a"/>
<circle cx="1025.2" cy="1097.6" r="6" fill="#ff1a1a"/>
<circle cx="1099.0" cy="1050.9" r="6" fill="#ff1a1a"/>
<circle cx="1172.9" cy="997.0" r="6" fill="#ff1a1a"/>
<circle cx="1246.8" cy="941.4" r="6" fill="#ff1a1a"/>
<circle cx="1320.6" cy="875.2" r="6" fill="#ff1a1a"/>
<circle cx="1394.4" cy="797.5" r="6" fill="#ff1a1a"/>
<circle cx="877.5" cy="1175.3" r="6.5" fill="#2448b0"/>
</g>
<rect x="866.8" y="779" width="541.4000000000001" height="404.5" fill="none" stroke="#3a3a3a" stroke-width="2.4"/>
<line x1="866.8" y1="1175.3" x2="875.8" y2="1175.3" stroke="#3a3a3a" stroke-width="2.2"/>
<line x1="866.8" y1="1131.2" x2="875.8" y2="1131.2" stroke="#3a3a3a" stroke-width="2.2"/>
<line x1="866.8" y1="1087.0" x2="875.8" y2="1087.0" stroke="#3a3a3a" stroke-width="2.2"/>
<line x1="866.8" y1="1042.9" x2="875.8" y2="1042.9" stroke="#3a3a3a" stroke-width="2.2"/>
<line x1="866.8" y1="998.8" x2="875.8" y2="998.8" stroke="#3a3a3a" stroke-width="2.2"/>
<line x1="866.8" y1="954.6" x2="875.8" y2="954.6" stroke="#3a3a3a" stroke-width="2.2"/>
<line x1="866.8" y1="910.5" x2="875.8" y2="910.5" stroke="#3a3a3a" stroke-width="2.2"/>
<line x1="866.8" y1="866.4" x2="875.8" y2="866.4" stroke="#3a3a3a" stroke-width="2.2"/>
<line x1="866.8" y1="822.3" x2="875.8" y2="822.3" stroke="#3a3a3a" stroke-width="2.2"/>
<line x1="877.5" y1="1183.5" x2="877.5" y2="1175.0" stroke="#3a3a3a" stroke-width="2.2"/>
<line x1="951.4" y1="1183.5" x2="951.4" y2="1175.0" stroke="#3a3a3a" stroke-width="2.2"/>
<line x1="1025.2" y1="1183.5" x2="1025.2" y2="1175.0" stroke="#3a3a3a" stroke-width="2.2"/>
<line x1="1099.0" y1="1183.5" x2="1099.0" y2="1175.0" stroke="#3a3a3a" stroke-width="2.2"/>
<line x1="1172.9" y1="1183.5" x2="1172.9" y2="1175.0" stroke="#3a3a3a" stroke-width="2.2"/>
<line x1="1246.8" y1="1183.5" x2="1246.8" y2="1175.0" stroke="#3a3a3a" stroke-width="2.2"/>
<line x1="1320.6" y1="1183.5" x2="1320.6" y2="1175.0" stroke="#3a3a3a" stroke-width="2.2"/>
<line x1="1394.4" y1="1183.5" x2="1394.4" y2="1175.0" stroke="#3a3a3a" stroke-width="2.2"/>
<text x="840.23" y="1186.90" font-family="Liberation Sans, sans-serif" font-size="32.57" font-weight="normal" fill="#1a1a1a" text-anchor="start" textLength="16.22" lengthAdjust="spacingAndGlyphs" >0</text>
<text x="821.22" y="1142.77" font-family="Liberation Sans, sans-serif" font-size="32.57" font-weight="normal" fill="#1a1a1a" text-anchor="start" textLength="35.53" lengthAdjust="spacingAndGlyphs" >50</text>
<text x="801.35" y="1098.64" font-family="Liberation Sans, sans-serif" font-size="32.57" font-weight="normal" fill="#1a1a1a" text-anchor="start" textLength="55.33" lengthAdjust="spacingAndGlyphs" >100</text>
<text x="801.35" y="1054.51" font-family="Liberation Sans, sans-serif" font-size="32.57" font-weight="normal" fill="#1a1a1a" text-anchor="start" textLength="55.33" lengthAdjust="spacingAndGlyphs" >150</text>
<text x="802.37" y="1010.38" font-family="Liberation Sans, sans-serif" font-size="32.57" font-weight="normal" fill="#1a1a1a" text-anchor="start" textLength="54.28" lengthAdjust="spacingAndGlyphs" >200</text>
<text x="802.37" y="966.25" font-family="Liberation Sans, sans-serif" font-size="32.57" font-weight="normal" fill="#1a1a1a" text-anchor="start" textLength="54.28" lengthAdjust="spacingAndGlyphs" >250</text>
<text x="802.71" y="922.12" font-family="Liberation Sans, sans-serif" font-size="32.57" font-weight="normal" fill="#1a1a1a" text-anchor="start" textLength="53.94" lengthAdjust="spacingAndGlyphs" >300</text>
<text x="802.71" y="877.99" font-family="Liberation Sans, sans-serif" font-size="32.57" font-weight="normal" fill="#1a1a1a" text-anchor="start" textLength="53.94" lengthAdjust="spacingAndGlyphs" >350</text>
<text x="803.36" y="833.86" font-family="Liberation Sans, sans-serif" font-size="32.57" font-weight="normal" fill="#1a1a1a" text-anchor="start" textLength="53.27" lengthAdjust="spacingAndGlyphs" >400</text>
<text x="803.36" y="789.73" font-family="Liberation Sans, sans-serif" font-size="32.57" font-weight="normal" fill="#1a1a1a" text-anchor="start" textLength="53.27" lengthAdjust="spacingAndGlyphs" >450</text>
<text x="868.75" y="1217.30" font-family="Liberation Sans, sans-serif" font-size="31.57" font-weight="normal" fill="#1a1a1a" text-anchor="start" textLength="17.38" lengthAdjust="spacingAndGlyphs" >0</text>
<text x="932.57" y="1217.30" font-family="Liberation Sans, sans-serif" font-size="31.57" font-weight="normal" fill="#1a1a1a" text-anchor="start" textLength="37.30" lengthAdjust="spacingAndGlyphs" >20</text>
<text x="1007.45" y="1217.30" font-family="Liberation Sans, sans-serif" font-size="31.57" font-weight="normal" fill="#1a1a1a" text-anchor="start" textLength="36.23" lengthAdjust="spacingAndGlyphs" >40</text>
<text x="1080.27" y="1217.30" font-family="Liberation Sans, sans-serif" font-size="31.57" font-weight="normal" fill="#1a1a1a" text-anchor="start" textLength="37.30" lengthAdjust="spacingAndGlyphs" >60</text>
<text x="1154.47" y="1217.30" font-family="Liberation Sans, sans-serif" font-size="31.57" font-weight="normal" fill="#1a1a1a" text-anchor="start" textLength="36.93" lengthAdjust="spacingAndGlyphs" >80</text>
<text x="1220.99" y="1217.30" font-family="Liberation Sans, sans-serif" font-size="31.57" font-weight="normal" fill="#1a1a1a" text-anchor="start" textLength="50.27" lengthAdjust="spacingAndGlyphs" >100</text>
<text x="1294.84" y="1217.30" font-family="Liberation Sans, sans-serif" font-size="31.57" font-weight="normal" fill="#1a1a1a" text-anchor="start" textLength="50.27" lengthAdjust="spacingAndGlyphs" >120</text>
<text x="1368.69" y="1217.30" font-family="Liberation Sans, sans-serif" font-size="31.57" font-weight="normal" fill="#1a1a1a" text-anchor="start" textLength="50.27" lengthAdjust="spacingAndGlyphs" >140</text>
<text x="1065.77" y="1264.60" font-family="Liberation Sans, sans-serif" font-size="28.43" font-weight="normal" fill="#1a1a1a" text-anchor="start" textLength="144.86" lengthAdjust="spacingAndGlyphs" >Strain (%)</text>
<g transform="translate(780.4,1050.5) rotate(-90)"><text x="0" y="0" font-family="Liberation Sans, sans-serif" font-size="32" fill="#1a1a1a" textLength="66" lengthAdjust="spacingAndGlyphs">&#916;C/C</text><text x="68.7" y="11.8" font-family="Liberation Sans, sans-serif" font-size="24" fill="#1a1a1a" textLength="13.8" lengthAdjust="spacingAndGlyphs">0</text><text x="97.7" y="0" font-family="Liberation Sans, sans-serif" font-size="32" fill="#1a1a1a" textLength="41" lengthAdjust="spacingAndGlyphs">(%)</text></g>
<line x1="885.6" y1="806.2" x2="952" y2="806.2" stroke="#0a0a0a" stroke-width="5"/>
<circle cx="918.6" cy="806.2" r="6" fill="#0a0a0a"/>
<line x1="885.6" y1="847.2" x2="952" y2="847.2" stroke="#ff1a1a" stroke-width="5"/>
<circle cx="918.6" cy="847.2" r="6" fill="#ff1a1a"/>
<line x1="885.6" y1="888.2" x2="952" y2="888.2" stroke="#2448b0" stroke-width="5"/>
<circle cx="918.6" cy="888.2" r="6" fill="#2448b0"/>
<text x="959.88" y="815.30" font-family="Liberation Sans, sans-serif" font-size="30.14" font-weight="normal" fill="#1a1a1a" text-anchor="start" textLength="241.99" lengthAdjust="spacingAndGlyphs" >Stretch (500 nm)</text>
<text x="958.87" y="855.50" font-family="Liberation Sans, sans-serif" font-size="31.3" font-weight="normal" fill="#ff2a2a" text-anchor="start" textLength="261.04" lengthAdjust="spacingAndGlyphs" >Release (500 nm)</text>
<text x="960.85" y="896.30" font-family="Liberation Sans, sans-serif" font-size="31.01" font-weight="normal" fill="#3050b0" text-anchor="start" textLength="237.64" lengthAdjust="spacingAndGlyphs" >Theoretical Limit</text>
<text x="1232.18" y="815.30" font-family="Liberation Sans, sans-serif" font-size="30.14" font-weight="normal" fill="#1a1a1a" text-anchor="start" textLength="125.73" lengthAdjust="spacingAndGlyphs" >GF: 3.05</text>
<text x="1253.04" y="1051.00" font-family="Liberation Sans, sans-serif" font-size="31.14" font-weight="normal" fill="#1a1a1a" text-anchor="start" textLength="78.14" lengthAdjust="spacingAndGlyphs" >GF: 1</text>
<rect x="885" y="935" width="215" height="112" fill="#ffffff"/>
<text x="901.50" y="999.50" font-family="Liberation Serif, serif" font-size="44" font-weight="normal" fill="#111" text-anchor="start" font-style="italic">G<tspan dx="3">F</tspan></text>
<rect x="980" y="981.5" width="30" height="2.6" fill="#111"/><rect x="980" y="989" width="30" height="2.6" fill="#111"/>
<rect x="1026.5" y="985" width="55.5" height="2.6" fill="#111"/>
<text x="1031.50" y="973.50" font-family="Liberation Serif, serif" font-size="30" font-weight="normal" fill="#111" text-anchor="start" font-style="italic">&#916;S</text>
<text x="1027.80" y="1022.30" font-family="Liberation Serif, serif" font-size="30" font-weight="normal" fill="#111" text-anchor="start" font-style="italic">S</text>
<text x="1045.50" y="1026.50" font-family="Liberation Serif, serif" font-size="22" font-weight="bold" fill="#111" text-anchor="start" >o</text>
<text x="1060.00" y="1022.30" font-family="Liberation Serif, serif" font-size="32" font-weight="normal" fill="#111" text-anchor="start" font-style="italic">&#949;</text>
<line x1="1119.5" y1="986.5" x2="1190" y2="937.5" stroke="#1a1a1a" stroke-width="3"/>
<polygon points="1176.9,927.6 1212.5,922.3 1198.9,951.6" fill="#1a1a1a"/>
<line x1="1259" y1="998.5" x2="1188" y2="1046" stroke="#ff1a1a" stroke-width="2.6"/>
<polygon points="1178.4,1032.6 1164.2,1062 1200.2,1058.2" fill="#ff1a1a"/>
<text x="684.30" y="712.30" font-family="Liberation Serif, serif" font-size="46" font-weight="normal" fill="#000" text-anchor="start" textLength="51.00" lengthAdjust="spacingAndGlyphs" >(a)</text>
<text x="683.00" y="1354.50" font-family="Liberation Serif, serif" font-size="46" font-weight="normal" fill="#000" text-anchor="start" textLength="53.00" lengthAdjust="spacingAndGlyphs" >(b)</text></g></svg>
</body></html>
